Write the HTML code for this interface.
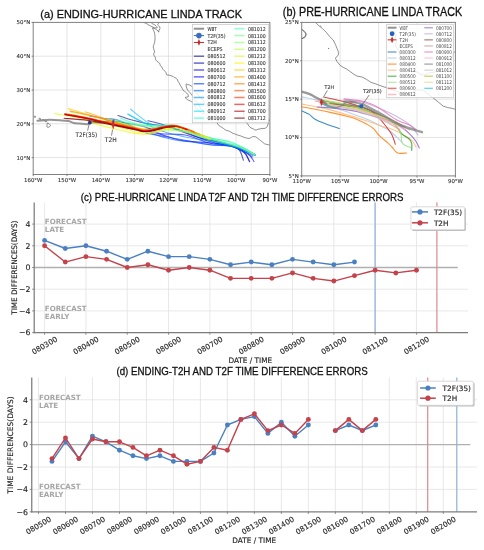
<!DOCTYPE html>
<html><head><meta charset="utf-8"><title>Hurricane Linda track and time difference errors</title>
<style>html,body{margin:0;padding:0;background:#fff;}body{width:484px;height:550px;overflow:hidden;}svg{display:block;}</style>
</head><body>
<svg width="484" height="550" viewBox="0 0 484 550"><defs><clipPath id="clipA"><rect x="33.2" y="22.4" width="236.70" height="152.10"/></clipPath><clipPath id="clipB"><rect x="301.7" y="22.4" width="153.70" height="153.50"/></clipPath></defs><line x1="44.6" y1="202.4" x2="44.6" y2="332.7" stroke="#e2e2e2" stroke-width="0.8" />
<line x1="85.92" y1="202.4" x2="85.92" y2="332.7" stroke="#e2e2e2" stroke-width="0.8" />
<line x1="127.24" y1="202.4" x2="127.24" y2="332.7" stroke="#e2e2e2" stroke-width="0.8" />
<line x1="168.56" y1="202.4" x2="168.56" y2="332.7" stroke="#e2e2e2" stroke-width="0.8" />
<line x1="209.88" y1="202.4" x2="209.88" y2="332.7" stroke="#e2e2e2" stroke-width="0.8" />
<line x1="251.2" y1="202.4" x2="251.2" y2="332.7" stroke="#e2e2e2" stroke-width="0.8" />
<line x1="292.52" y1="202.4" x2="292.52" y2="332.7" stroke="#e2e2e2" stroke-width="0.8" />
<line x1="333.84" y1="202.4" x2="333.84" y2="332.7" stroke="#e2e2e2" stroke-width="0.8" />
<line x1="375.16" y1="202.4" x2="375.16" y2="332.7" stroke="#e2e2e2" stroke-width="0.8" />
<line x1="416.48" y1="202.4" x2="416.48" y2="332.7" stroke="#e2e2e2" stroke-width="0.8" />
<line x1="34.2" y1="310.9" x2="468" y2="310.9" stroke="#e2e2e2" stroke-width="0.8" />
<line x1="34.2" y1="289.2" x2="468" y2="289.2" stroke="#e2e2e2" stroke-width="0.8" />
<line x1="34.2" y1="245.8" x2="468" y2="245.8" stroke="#e2e2e2" stroke-width="0.8" />
<line x1="34.2" y1="224.1" x2="468" y2="224.1" stroke="#e2e2e2" stroke-width="0.8" />
<line x1="34.2" y1="267.5" x2="457.8" y2="267.5" stroke="#b0b0b0" stroke-width="1.3" />
<line x1="375.1" y1="202.4" x2="375.1" y2="332.7" stroke="#8fb0d8" stroke-width="1.2" />
<line x1="436.9" y1="202.4" x2="436.9" y2="332.7" stroke="#d98a8e" stroke-width="1.2" />
<line x1="34.2" y1="202.4" x2="34.2" y2="333.3" stroke="#7c7c7c" stroke-width="1.25" />
<line x1="33.6" y1="332.7" x2="468" y2="332.7" stroke="#7c7c7c" stroke-width="1.25" />
<line x1="44.6" y1="332.7" x2="44.6" y2="334.7" stroke="#7c7c7c" stroke-width="0.9" />
<line x1="85.92" y1="332.7" x2="85.92" y2="334.7" stroke="#7c7c7c" stroke-width="0.9" />
<line x1="127.24" y1="332.7" x2="127.24" y2="334.7" stroke="#7c7c7c" stroke-width="0.9" />
<line x1="168.56" y1="332.7" x2="168.56" y2="334.7" stroke="#7c7c7c" stroke-width="0.9" />
<line x1="209.88" y1="332.7" x2="209.88" y2="334.7" stroke="#7c7c7c" stroke-width="0.9" />
<line x1="251.2" y1="332.7" x2="251.2" y2="334.7" stroke="#7c7c7c" stroke-width="0.9" />
<line x1="292.52" y1="332.7" x2="292.52" y2="334.7" stroke="#7c7c7c" stroke-width="0.9" />
<line x1="333.84" y1="332.7" x2="333.84" y2="334.7" stroke="#7c7c7c" stroke-width="0.9" />
<line x1="375.16" y1="332.7" x2="375.16" y2="334.7" stroke="#7c7c7c" stroke-width="0.9" />
<line x1="416.48" y1="332.7" x2="416.48" y2="334.7" stroke="#7c7c7c" stroke-width="0.9" />
<line x1="32.2" y1="332.6" x2="34.2" y2="332.6" stroke="#7c7c7c" stroke-width="0.9" />
<text x="30.4" y="335.35" font-family="'DejaVu Sans', 'Liberation Sans', sans-serif" font-size="7.8" fill="#262626" text-anchor="end" stroke="#262626" stroke-width="0.15">−6</text>
<line x1="32.2" y1="310.9" x2="34.2" y2="310.9" stroke="#7c7c7c" stroke-width="0.9" />
<text x="30.4" y="313.65" font-family="'DejaVu Sans', 'Liberation Sans', sans-serif" font-size="7.8" fill="#262626" text-anchor="end" stroke="#262626" stroke-width="0.15">−4</text>
<line x1="32.2" y1="289.2" x2="34.2" y2="289.2" stroke="#7c7c7c" stroke-width="0.9" />
<text x="30.4" y="291.95" font-family="'DejaVu Sans', 'Liberation Sans', sans-serif" font-size="7.8" fill="#262626" text-anchor="end" stroke="#262626" stroke-width="0.15">−2</text>
<line x1="32.2" y1="267.5" x2="34.2" y2="267.5" stroke="#7c7c7c" stroke-width="0.9" />
<text x="30.4" y="270.25" font-family="'DejaVu Sans', 'Liberation Sans', sans-serif" font-size="7.8" fill="#262626" text-anchor="end" stroke="#262626" stroke-width="0.15">0</text>
<line x1="32.2" y1="245.8" x2="34.2" y2="245.8" stroke="#7c7c7c" stroke-width="0.9" />
<text x="30.4" y="248.55" font-family="'DejaVu Sans', 'Liberation Sans', sans-serif" font-size="7.8" fill="#262626" text-anchor="end" stroke="#262626" stroke-width="0.15">2</text>
<line x1="32.2" y1="224.1" x2="34.2" y2="224.1" stroke="#7c7c7c" stroke-width="0.9" />
<text x="30.4" y="226.85" font-family="'DejaVu Sans', 'Liberation Sans', sans-serif" font-size="7.8" fill="#262626" text-anchor="end" stroke="#262626" stroke-width="0.15">4</text>
<text x="0" y="0" font-family="'DejaVu Sans', 'Liberation Sans', sans-serif" font-size="7.3" fill="#262626" stroke="#262626" stroke-width="0.12" text-anchor="middle" dominant-baseline="central" transform="translate(44.6,345.5) rotate(-30)">080300</text>
<text x="0" y="0" font-family="'DejaVu Sans', 'Liberation Sans', sans-serif" font-size="7.3" fill="#262626" stroke="#262626" stroke-width="0.12" text-anchor="middle" dominant-baseline="central" transform="translate(85.92,345.5) rotate(-30)">080400</text>
<text x="0" y="0" font-family="'DejaVu Sans', 'Liberation Sans', sans-serif" font-size="7.3" fill="#262626" stroke="#262626" stroke-width="0.12" text-anchor="middle" dominant-baseline="central" transform="translate(127.24,345.5) rotate(-30)">080500</text>
<text x="0" y="0" font-family="'DejaVu Sans', 'Liberation Sans', sans-serif" font-size="7.3" fill="#262626" stroke="#262626" stroke-width="0.12" text-anchor="middle" dominant-baseline="central" transform="translate(168.56,345.5) rotate(-30)">080600</text>
<text x="0" y="0" font-family="'DejaVu Sans', 'Liberation Sans', sans-serif" font-size="7.3" fill="#262626" stroke="#262626" stroke-width="0.12" text-anchor="middle" dominant-baseline="central" transform="translate(209.88,345.5) rotate(-30)">080700</text>
<text x="0" y="0" font-family="'DejaVu Sans', 'Liberation Sans', sans-serif" font-size="7.3" fill="#262626" stroke="#262626" stroke-width="0.12" text-anchor="middle" dominant-baseline="central" transform="translate(251.2,345.5) rotate(-30)">080800</text>
<text x="0" y="0" font-family="'DejaVu Sans', 'Liberation Sans', sans-serif" font-size="7.3" fill="#262626" stroke="#262626" stroke-width="0.12" text-anchor="middle" dominant-baseline="central" transform="translate(292.52,345.5) rotate(-30)">080900</text>
<text x="0" y="0" font-family="'DejaVu Sans', 'Liberation Sans', sans-serif" font-size="7.3" fill="#262626" stroke="#262626" stroke-width="0.12" text-anchor="middle" dominant-baseline="central" transform="translate(333.84,345.5) rotate(-30)">081000</text>
<text x="0" y="0" font-family="'DejaVu Sans', 'Liberation Sans', sans-serif" font-size="7.3" fill="#262626" stroke="#262626" stroke-width="0.12" text-anchor="middle" dominant-baseline="central" transform="translate(375.16,345.5) rotate(-30)">081100</text>
<text x="0" y="0" font-family="'DejaVu Sans', 'Liberation Sans', sans-serif" font-size="7.3" fill="#262626" stroke="#262626" stroke-width="0.12" text-anchor="middle" dominant-baseline="central" transform="translate(416.48,345.5) rotate(-30)">081200</text>
<text x="0" y="0" font-family="'DejaVu Sans', 'Liberation Sans', sans-serif" font-size="7.6" fill="#262626" text-anchor="middle" dominant-baseline="central" textLength="94.2" lengthAdjust="spacingAndGlyphs" stroke="#262626" stroke-width="0.15" transform="translate(14.2,267.7) rotate(-90)">TIME DIFFERENCES(DAYS)</text>
<text x="250.3" y="363" font-family="'DejaVu Sans', 'Liberation Sans', sans-serif" font-size="7.4" fill="#262626" text-anchor="middle" textLength="43.8" lengthAdjust="spacingAndGlyphs" stroke="#262626" stroke-width="0.15">DATE / TIME</text>
<text x="44.8" y="223.9" font-family="'DejaVu Sans', 'Liberation Sans', sans-serif" font-size="7.2" fill="#a6a6a6" text-anchor="start" font-weight="bold" textLength="41.8" lengthAdjust="spacingAndGlyphs">FORECAST</text>
<text x="44.8" y="231.9" font-family="'DejaVu Sans', 'Liberation Sans', sans-serif" font-size="7.2" fill="#a6a6a6" text-anchor="start" font-weight="bold" textLength="19.4" lengthAdjust="spacingAndGlyphs">LATE</text>
<text x="44.8" y="310.5" font-family="'DejaVu Sans', 'Liberation Sans', sans-serif" font-size="7.2" fill="#a6a6a6" text-anchor="start" font-weight="bold" textLength="41.8" lengthAdjust="spacingAndGlyphs">FORECAST</text>
<text x="44.8" y="318.7" font-family="'DejaVu Sans', 'Liberation Sans', sans-serif" font-size="7.2" fill="#a6a6a6" text-anchor="start" font-weight="bold" textLength="24.5" lengthAdjust="spacingAndGlyphs">EARLY</text>
<polyline points="44.6,240.38 65.26,248.51 85.92,245.8 106.58,251.22 127.24,259.36 147.9,251.22 168.56,256.65 189.22,256.65 209.88,259.36 230.54,264.79 251.2,262.07 271.86,264.79 292.52,259.36 313.18,262.07 333.84,264.79 354.5,262.07" fill="none" stroke="#4a80c2" stroke-width="1.4" stroke-linejoin="round" stroke-linecap="round" />
<circle cx="44.6" cy="240.38" r="2.45" fill="#4a80c2" />
<circle cx="65.26" cy="248.51" r="2.45" fill="#4a80c2" />
<circle cx="85.92" cy="245.8" r="2.45" fill="#4a80c2" />
<circle cx="106.58" cy="251.22" r="2.45" fill="#4a80c2" />
<circle cx="127.24" cy="259.36" r="2.45" fill="#4a80c2" />
<circle cx="147.9" cy="251.22" r="2.45" fill="#4a80c2" />
<circle cx="168.56" cy="256.65" r="2.45" fill="#4a80c2" />
<circle cx="189.22" cy="256.65" r="2.45" fill="#4a80c2" />
<circle cx="209.88" cy="259.36" r="2.45" fill="#4a80c2" />
<circle cx="230.54" cy="264.79" r="2.45" fill="#4a80c2" />
<circle cx="251.2" cy="262.07" r="2.45" fill="#4a80c2" />
<circle cx="271.86" cy="264.79" r="2.45" fill="#4a80c2" />
<circle cx="292.52" cy="259.36" r="2.45" fill="#4a80c2" />
<circle cx="313.18" cy="262.07" r="2.45" fill="#4a80c2" />
<circle cx="333.84" cy="264.79" r="2.45" fill="#4a80c2" />
<circle cx="354.5" cy="262.07" r="2.45" fill="#4a80c2" />
<polyline points="44.6,245.8 65.26,262.07 85.92,256.65 106.58,259.36 127.24,267.5 147.9,264.79 168.56,270.21 189.22,267.5 209.88,270.21 230.54,278.35 251.2,278.35 271.86,278.35 292.52,272.93 313.18,278.35 333.84,281.06 354.5,275.64 375.16,270.21 395.82,272.93 416.48,270.21" fill="none" stroke="#c4424a" stroke-width="1.4" stroke-linejoin="round" stroke-linecap="round" />
<circle cx="44.6" cy="245.8" r="2.45" fill="#c4424a" />
<circle cx="65.26" cy="262.07" r="2.45" fill="#c4424a" />
<circle cx="85.92" cy="256.65" r="2.45" fill="#c4424a" />
<circle cx="106.58" cy="259.36" r="2.45" fill="#c4424a" />
<circle cx="127.24" cy="267.5" r="2.45" fill="#c4424a" />
<circle cx="147.9" cy="264.79" r="2.45" fill="#c4424a" />
<circle cx="168.56" cy="270.21" r="2.45" fill="#c4424a" />
<circle cx="189.22" cy="267.5" r="2.45" fill="#c4424a" />
<circle cx="209.88" cy="270.21" r="2.45" fill="#c4424a" />
<circle cx="230.54" cy="278.35" r="2.45" fill="#c4424a" />
<circle cx="251.2" cy="278.35" r="2.45" fill="#c4424a" />
<circle cx="271.86" cy="278.35" r="2.45" fill="#c4424a" />
<circle cx="292.52" cy="272.93" r="2.45" fill="#c4424a" />
<circle cx="313.18" cy="278.35" r="2.45" fill="#c4424a" />
<circle cx="333.84" cy="281.06" r="2.45" fill="#c4424a" />
<circle cx="354.5" cy="275.64" r="2.45" fill="#c4424a" />
<circle cx="375.16" cy="270.21" r="2.45" fill="#c4424a" />
<circle cx="395.82" cy="272.93" r="2.45" fill="#c4424a" />
<circle cx="416.48" cy="270.21" r="2.45" fill="#c4424a" />
<rect x="412.2" y="208.1" width="53.7" height="23" fill="#bdbdbd" stroke="none" stroke-width="1" rx="1.5"/>
<rect x="410.9" y="206.8" width="53.7" height="23" fill="#ffffff" stroke="#d0d0d0" stroke-width="0.8" rx="1.5"/>
<line x1="411.9" y1="211.9" x2="428" y2="211.9" stroke="#4a80c2" stroke-width="1.5" />
<circle cx="419.95" cy="211.9" r="2.6" fill="#4a80c2" />
<text x="433.9" y="214.6" font-family="'DejaVu Sans', 'Liberation Sans', sans-serif" font-size="7.3" fill="#262626" text-anchor="start" stroke="#262626" stroke-width="0.15">T2F(35)</text>
<line x1="411.9" y1="222.8" x2="428" y2="222.8" stroke="#c4424a" stroke-width="1.5" />
<circle cx="419.95" cy="222.8" r="2.6" fill="#c4424a" />
<text x="433.9" y="225.5" font-family="'DejaVu Sans', 'Liberation Sans', sans-serif" font-size="7.3" fill="#262626" text-anchor="start" stroke="#262626" stroke-width="0.15">T2H</text>
<text x="80.8" y="200.8" font-family="'Liberation Sans', 'DejaVu Sans', sans-serif" font-size="11.6" fill="#111" text-anchor="start" textLength="322.6" lengthAdjust="spacingAndGlyphs" stroke="#111" stroke-width="0.3">(c) PRE-HURRICANE LINDA T2F AND T2H TIME DIFFERENCE ERRORS</text>
<line x1="38.5" y1="377.4" x2="38.5" y2="511.9" stroke="#e2e2e2" stroke-width="0.8" />
<line x1="65.49" y1="377.4" x2="65.49" y2="511.9" stroke="#e2e2e2" stroke-width="0.8" />
<line x1="92.47" y1="377.4" x2="92.47" y2="511.9" stroke="#e2e2e2" stroke-width="0.8" />
<line x1="119.46" y1="377.4" x2="119.46" y2="511.9" stroke="#e2e2e2" stroke-width="0.8" />
<line x1="146.44" y1="377.4" x2="146.44" y2="511.9" stroke="#e2e2e2" stroke-width="0.8" />
<line x1="173.43" y1="377.4" x2="173.43" y2="511.9" stroke="#e2e2e2" stroke-width="0.8" />
<line x1="200.42" y1="377.4" x2="200.42" y2="511.9" stroke="#e2e2e2" stroke-width="0.8" />
<line x1="227.4" y1="377.4" x2="227.4" y2="511.9" stroke="#e2e2e2" stroke-width="0.8" />
<line x1="254.39" y1="377.4" x2="254.39" y2="511.9" stroke="#e2e2e2" stroke-width="0.8" />
<line x1="281.37" y1="377.4" x2="281.37" y2="511.9" stroke="#e2e2e2" stroke-width="0.8" />
<line x1="308.36" y1="377.4" x2="308.36" y2="511.9" stroke="#e2e2e2" stroke-width="0.8" />
<line x1="335.35" y1="377.4" x2="335.35" y2="511.9" stroke="#e2e2e2" stroke-width="0.8" />
<line x1="362.33" y1="377.4" x2="362.33" y2="511.9" stroke="#e2e2e2" stroke-width="0.8" />
<line x1="389.32" y1="377.4" x2="389.32" y2="511.9" stroke="#e2e2e2" stroke-width="0.8" />
<line x1="416.3" y1="377.4" x2="416.3" y2="511.9" stroke="#e2e2e2" stroke-width="0.8" />
<line x1="443.29" y1="377.4" x2="443.29" y2="511.9" stroke="#e2e2e2" stroke-width="0.8" />
<line x1="31.75" y1="489.4" x2="477" y2="489.4" stroke="#e2e2e2" stroke-width="0.8" />
<line x1="31.75" y1="467" x2="477" y2="467" stroke="#e2e2e2" stroke-width="0.8" />
<line x1="31.75" y1="422.2" x2="477" y2="422.2" stroke="#e2e2e2" stroke-width="0.8" />
<line x1="31.75" y1="399.8" x2="477" y2="399.8" stroke="#e2e2e2" stroke-width="0.8" />
<line x1="31.75" y1="444.6" x2="470.28" y2="444.6" stroke="#b0b0b0" stroke-width="1.3" />
<line x1="456.8" y1="377.4" x2="456.8" y2="511.9" stroke="#8fb0d8" stroke-width="1.2" />
<line x1="427.7" y1="377.4" x2="427.7" y2="511.9" stroke="#d98a8e" stroke-width="1.2" />
<line x1="31.75" y1="377.4" x2="31.75" y2="512.5" stroke="#7c7c7c" stroke-width="1.25" />
<line x1="31.15" y1="511.9" x2="477" y2="511.9" stroke="#7c7c7c" stroke-width="1.25" />
<line x1="38.5" y1="511.9" x2="38.5" y2="513.9" stroke="#7c7c7c" stroke-width="0.9" />
<line x1="65.49" y1="511.9" x2="65.49" y2="513.9" stroke="#7c7c7c" stroke-width="0.9" />
<line x1="92.47" y1="511.9" x2="92.47" y2="513.9" stroke="#7c7c7c" stroke-width="0.9" />
<line x1="119.46" y1="511.9" x2="119.46" y2="513.9" stroke="#7c7c7c" stroke-width="0.9" />
<line x1="146.44" y1="511.9" x2="146.44" y2="513.9" stroke="#7c7c7c" stroke-width="0.9" />
<line x1="173.43" y1="511.9" x2="173.43" y2="513.9" stroke="#7c7c7c" stroke-width="0.9" />
<line x1="200.42" y1="511.9" x2="200.42" y2="513.9" stroke="#7c7c7c" stroke-width="0.9" />
<line x1="227.4" y1="511.9" x2="227.4" y2="513.9" stroke="#7c7c7c" stroke-width="0.9" />
<line x1="254.39" y1="511.9" x2="254.39" y2="513.9" stroke="#7c7c7c" stroke-width="0.9" />
<line x1="281.37" y1="511.9" x2="281.37" y2="513.9" stroke="#7c7c7c" stroke-width="0.9" />
<line x1="308.36" y1="511.9" x2="308.36" y2="513.9" stroke="#7c7c7c" stroke-width="0.9" />
<line x1="335.35" y1="511.9" x2="335.35" y2="513.9" stroke="#7c7c7c" stroke-width="0.9" />
<line x1="362.33" y1="511.9" x2="362.33" y2="513.9" stroke="#7c7c7c" stroke-width="0.9" />
<line x1="389.32" y1="511.9" x2="389.32" y2="513.9" stroke="#7c7c7c" stroke-width="0.9" />
<line x1="416.3" y1="511.9" x2="416.3" y2="513.9" stroke="#7c7c7c" stroke-width="0.9" />
<line x1="443.29" y1="511.9" x2="443.29" y2="513.9" stroke="#7c7c7c" stroke-width="0.9" />
<line x1="29.75" y1="511.8" x2="31.75" y2="511.8" stroke="#7c7c7c" stroke-width="0.9" />
<text x="27.9" y="514.55" font-family="'DejaVu Sans', 'Liberation Sans', sans-serif" font-size="7.8" fill="#262626" text-anchor="end" stroke="#262626" stroke-width="0.15">−6</text>
<line x1="29.75" y1="489.4" x2="31.75" y2="489.4" stroke="#7c7c7c" stroke-width="0.9" />
<text x="27.9" y="492.15" font-family="'DejaVu Sans', 'Liberation Sans', sans-serif" font-size="7.8" fill="#262626" text-anchor="end" stroke="#262626" stroke-width="0.15">−4</text>
<line x1="29.75" y1="467" x2="31.75" y2="467" stroke="#7c7c7c" stroke-width="0.9" />
<text x="27.9" y="469.75" font-family="'DejaVu Sans', 'Liberation Sans', sans-serif" font-size="7.8" fill="#262626" text-anchor="end" stroke="#262626" stroke-width="0.15">−2</text>
<line x1="29.75" y1="444.6" x2="31.75" y2="444.6" stroke="#7c7c7c" stroke-width="0.9" />
<text x="27.9" y="447.35" font-family="'DejaVu Sans', 'Liberation Sans', sans-serif" font-size="7.8" fill="#262626" text-anchor="end" stroke="#262626" stroke-width="0.15">0</text>
<line x1="29.75" y1="422.2" x2="31.75" y2="422.2" stroke="#7c7c7c" stroke-width="0.9" />
<text x="27.9" y="424.95" font-family="'DejaVu Sans', 'Liberation Sans', sans-serif" font-size="7.8" fill="#262626" text-anchor="end" stroke="#262626" stroke-width="0.15">2</text>
<line x1="29.75" y1="399.8" x2="31.75" y2="399.8" stroke="#7c7c7c" stroke-width="0.9" />
<text x="27.9" y="402.55" font-family="'DejaVu Sans', 'Liberation Sans', sans-serif" font-size="7.8" fill="#262626" text-anchor="end" stroke="#262626" stroke-width="0.15">4</text>
<text x="0" y="0" font-family="'DejaVu Sans', 'Liberation Sans', sans-serif" font-size="7.3" fill="#262626" stroke="#262626" stroke-width="0.12" text-anchor="middle" dominant-baseline="central" transform="translate(38.5,525.5) rotate(-30)">080500</text>
<text x="0" y="0" font-family="'DejaVu Sans', 'Liberation Sans', sans-serif" font-size="7.3" fill="#262626" stroke="#262626" stroke-width="0.12" text-anchor="middle" dominant-baseline="central" transform="translate(65.49,525.5) rotate(-30)">080600</text>
<text x="0" y="0" font-family="'DejaVu Sans', 'Liberation Sans', sans-serif" font-size="7.3" fill="#262626" stroke="#262626" stroke-width="0.12" text-anchor="middle" dominant-baseline="central" transform="translate(92.47,525.5) rotate(-30)">080700</text>
<text x="0" y="0" font-family="'DejaVu Sans', 'Liberation Sans', sans-serif" font-size="7.3" fill="#262626" stroke="#262626" stroke-width="0.12" text-anchor="middle" dominant-baseline="central" transform="translate(119.46,525.5) rotate(-30)">080800</text>
<text x="0" y="0" font-family="'DejaVu Sans', 'Liberation Sans', sans-serif" font-size="7.3" fill="#262626" stroke="#262626" stroke-width="0.12" text-anchor="middle" dominant-baseline="central" transform="translate(146.44,525.5) rotate(-30)">080900</text>
<text x="0" y="0" font-family="'DejaVu Sans', 'Liberation Sans', sans-serif" font-size="7.3" fill="#262626" stroke="#262626" stroke-width="0.12" text-anchor="middle" dominant-baseline="central" transform="translate(173.43,525.5) rotate(-30)">081000</text>
<text x="0" y="0" font-family="'DejaVu Sans', 'Liberation Sans', sans-serif" font-size="7.3" fill="#262626" stroke="#262626" stroke-width="0.12" text-anchor="middle" dominant-baseline="central" transform="translate(200.42,525.5) rotate(-30)">081100</text>
<text x="0" y="0" font-family="'DejaVu Sans', 'Liberation Sans', sans-serif" font-size="7.3" fill="#262626" stroke="#262626" stroke-width="0.12" text-anchor="middle" dominant-baseline="central" transform="translate(227.4,525.5) rotate(-30)">081200</text>
<text x="0" y="0" font-family="'DejaVu Sans', 'Liberation Sans', sans-serif" font-size="7.3" fill="#262626" stroke="#262626" stroke-width="0.12" text-anchor="middle" dominant-baseline="central" transform="translate(254.39,525.5) rotate(-30)">081300</text>
<text x="0" y="0" font-family="'DejaVu Sans', 'Liberation Sans', sans-serif" font-size="7.3" fill="#262626" stroke="#262626" stroke-width="0.12" text-anchor="middle" dominant-baseline="central" transform="translate(281.37,525.5) rotate(-30)">081400</text>
<text x="0" y="0" font-family="'DejaVu Sans', 'Liberation Sans', sans-serif" font-size="7.3" fill="#262626" stroke="#262626" stroke-width="0.12" text-anchor="middle" dominant-baseline="central" transform="translate(308.36,525.5) rotate(-30)">081500</text>
<text x="0" y="0" font-family="'DejaVu Sans', 'Liberation Sans', sans-serif" font-size="7.3" fill="#262626" stroke="#262626" stroke-width="0.12" text-anchor="middle" dominant-baseline="central" transform="translate(335.35,525.5) rotate(-30)">081600</text>
<text x="0" y="0" font-family="'DejaVu Sans', 'Liberation Sans', sans-serif" font-size="7.3" fill="#262626" stroke="#262626" stroke-width="0.12" text-anchor="middle" dominant-baseline="central" transform="translate(362.33,525.5) rotate(-30)">081700</text>
<text x="0" y="0" font-family="'DejaVu Sans', 'Liberation Sans', sans-serif" font-size="7.3" fill="#262626" stroke="#262626" stroke-width="0.12" text-anchor="middle" dominant-baseline="central" transform="translate(389.32,525.5) rotate(-30)">081800</text>
<text x="0" y="0" font-family="'DejaVu Sans', 'Liberation Sans', sans-serif" font-size="7.3" fill="#262626" stroke="#262626" stroke-width="0.12" text-anchor="middle" dominant-baseline="central" transform="translate(416.3,525.5) rotate(-30)">081900</text>
<text x="0" y="0" font-family="'DejaVu Sans', 'Liberation Sans', sans-serif" font-size="7.3" fill="#262626" stroke="#262626" stroke-width="0.12" text-anchor="middle" dominant-baseline="central" transform="translate(443.29,525.5) rotate(-30)">082000</text>
<text x="0" y="0" font-family="'DejaVu Sans', 'Liberation Sans', sans-serif" font-size="7.6" fill="#262626" text-anchor="middle" dominant-baseline="central" textLength="97.3" lengthAdjust="spacingAndGlyphs" stroke="#262626" stroke-width="0.15" transform="translate(10.5,445) rotate(-90)">TIME DIFFERENCES(DAYS)</text>
<text x="254.2" y="543.1" font-family="'DejaVu Sans', 'Liberation Sans', sans-serif" font-size="7.4" fill="#262626" text-anchor="middle" textLength="43.8" lengthAdjust="spacingAndGlyphs" stroke="#262626" stroke-width="0.15">DATE / TIME</text>
<text x="38.9" y="399.6" font-family="'DejaVu Sans', 'Liberation Sans', sans-serif" font-size="7.2" fill="#a6a6a6" text-anchor="start" font-weight="bold" textLength="41.8" lengthAdjust="spacingAndGlyphs">FORECAST</text>
<text x="38.9" y="407.6" font-family="'DejaVu Sans', 'Liberation Sans', sans-serif" font-size="7.2" fill="#a6a6a6" text-anchor="start" font-weight="bold" textLength="19.4" lengthAdjust="spacingAndGlyphs">LATE</text>
<text x="38.9" y="488.9" font-family="'DejaVu Sans', 'Liberation Sans', sans-serif" font-size="7.2" fill="#a6a6a6" text-anchor="start" font-weight="bold" textLength="41.8" lengthAdjust="spacingAndGlyphs">FORECAST</text>
<text x="38.9" y="497.1" font-family="'DejaVu Sans', 'Liberation Sans', sans-serif" font-size="7.2" fill="#a6a6a6" text-anchor="start" font-weight="bold" textLength="24.5" lengthAdjust="spacingAndGlyphs">EARLY</text>
<polyline points="51.99,461.4 65.49,441.8 78.98,458.6 92.47,436.2 105.97,441.8 119.46,450.2 132.95,455.8 146.44,458.6 159.94,455.8 173.43,461.4 186.92,461.4 200.42,461.4 213.91,453 227.4,425 240.9,419.4 254.39,416.6 267.88,433.4 281.37,422.2 294.87,436.2 308.36,425" fill="none" stroke="#4a80c2" stroke-width="1.4" stroke-linejoin="round" stroke-linecap="round" />
<polyline points="335.35,430.6 348.84,425 362.33,430.6 375.82,425" fill="none" stroke="#4a80c2" stroke-width="1.4" stroke-linejoin="round" stroke-linecap="round" />
<circle cx="51.99" cy="461.4" r="2.45" fill="#4a80c2" />
<circle cx="65.49" cy="441.8" r="2.45" fill="#4a80c2" />
<circle cx="78.98" cy="458.6" r="2.45" fill="#4a80c2" />
<circle cx="92.47" cy="436.2" r="2.45" fill="#4a80c2" />
<circle cx="105.97" cy="441.8" r="2.45" fill="#4a80c2" />
<circle cx="119.46" cy="450.2" r="2.45" fill="#4a80c2" />
<circle cx="132.95" cy="455.8" r="2.45" fill="#4a80c2" />
<circle cx="146.44" cy="458.6" r="2.45" fill="#4a80c2" />
<circle cx="159.94" cy="455.8" r="2.45" fill="#4a80c2" />
<circle cx="173.43" cy="461.4" r="2.45" fill="#4a80c2" />
<circle cx="186.92" cy="461.4" r="2.45" fill="#4a80c2" />
<circle cx="200.42" cy="461.4" r="2.45" fill="#4a80c2" />
<circle cx="213.91" cy="453" r="2.45" fill="#4a80c2" />
<circle cx="227.4" cy="425" r="2.45" fill="#4a80c2" />
<circle cx="240.9" cy="419.4" r="2.45" fill="#4a80c2" />
<circle cx="254.39" cy="416.6" r="2.45" fill="#4a80c2" />
<circle cx="267.88" cy="433.4" r="2.45" fill="#4a80c2" />
<circle cx="281.37" cy="422.2" r="2.45" fill="#4a80c2" />
<circle cx="294.87" cy="436.2" r="2.45" fill="#4a80c2" />
<circle cx="308.36" cy="425" r="2.45" fill="#4a80c2" />
<circle cx="335.35" cy="430.6" r="2.45" fill="#4a80c2" />
<circle cx="348.84" cy="425" r="2.45" fill="#4a80c2" />
<circle cx="362.33" cy="430.6" r="2.45" fill="#4a80c2" />
<circle cx="375.82" cy="425" r="2.45" fill="#4a80c2" />
<polyline points="51.99,458.6 65.49,437.88 78.98,458.6 92.47,439 105.97,441.8 119.46,441.8 132.95,447.4 146.44,455.8 159.94,450.2 173.43,455.8 186.92,464.2 200.42,461.4 213.91,447.4 227.4,450.2 240.9,419.4 254.39,413.8 267.88,430.6 281.37,425 294.87,433.4 308.36,419.4" fill="none" stroke="#c4424a" stroke-width="1.4" stroke-linejoin="round" stroke-linecap="round" />
<polyline points="335.35,430.6 348.84,419.4 362.33,430.6 375.82,419.4" fill="none" stroke="#c4424a" stroke-width="1.4" stroke-linejoin="round" stroke-linecap="round" />
<circle cx="51.99" cy="458.6" r="2.45" fill="#c4424a" />
<circle cx="65.49" cy="437.88" r="2.45" fill="#c4424a" />
<circle cx="78.98" cy="458.6" r="2.45" fill="#c4424a" />
<circle cx="92.47" cy="439" r="2.45" fill="#c4424a" />
<circle cx="105.97" cy="441.8" r="2.45" fill="#c4424a" />
<circle cx="119.46" cy="441.8" r="2.45" fill="#c4424a" />
<circle cx="132.95" cy="447.4" r="2.45" fill="#c4424a" />
<circle cx="146.44" cy="455.8" r="2.45" fill="#c4424a" />
<circle cx="159.94" cy="450.2" r="2.45" fill="#c4424a" />
<circle cx="173.43" cy="455.8" r="2.45" fill="#c4424a" />
<circle cx="186.92" cy="464.2" r="2.45" fill="#c4424a" />
<circle cx="200.42" cy="461.4" r="2.45" fill="#c4424a" />
<circle cx="213.91" cy="447.4" r="2.45" fill="#c4424a" />
<circle cx="227.4" cy="450.2" r="2.45" fill="#c4424a" />
<circle cx="240.9" cy="419.4" r="2.45" fill="#c4424a" />
<circle cx="254.39" cy="413.8" r="2.45" fill="#c4424a" />
<circle cx="267.88" cy="430.6" r="2.45" fill="#c4424a" />
<circle cx="281.37" cy="425" r="2.45" fill="#c4424a" />
<circle cx="294.87" cy="433.4" r="2.45" fill="#c4424a" />
<circle cx="308.36" cy="419.4" r="2.45" fill="#c4424a" />
<circle cx="335.35" cy="430.6" r="2.45" fill="#c4424a" />
<circle cx="348.84" cy="419.4" r="2.45" fill="#c4424a" />
<circle cx="362.33" cy="430.6" r="2.45" fill="#c4424a" />
<circle cx="375.82" cy="419.4" r="2.45" fill="#c4424a" />
<rect x="418.9" y="382.5" width="55.7" height="24.1" fill="#bdbdbd" stroke="none" stroke-width="1" rx="1.5"/>
<rect x="417.6" y="381.2" width="55.7" height="24.1" fill="#ffffff" stroke="#d0d0d0" stroke-width="0.8" rx="1.5"/>
<line x1="420.1" y1="388" x2="435.8" y2="388" stroke="#4a80c2" stroke-width="1.5" />
<circle cx="427.95" cy="388" r="2.6" fill="#4a80c2" />
<text x="442.6" y="390.7" font-family="'DejaVu Sans', 'Liberation Sans', sans-serif" font-size="7.3" fill="#262626" text-anchor="start" stroke="#262626" stroke-width="0.15">T2F(35)</text>
<line x1="420.1" y1="398.2" x2="435.8" y2="398.2" stroke="#c4424a" stroke-width="1.5" />
<circle cx="427.95" cy="398.2" r="2.6" fill="#c4424a" />
<text x="442.6" y="400.9" font-family="'DejaVu Sans', 'Liberation Sans', sans-serif" font-size="7.3" fill="#262626" text-anchor="start" stroke="#262626" stroke-width="0.15">T2H</text>
<text x="116.4" y="374.9" font-family="'Liberation Sans', 'DejaVu Sans', sans-serif" font-size="11.2" fill="#111" text-anchor="start" textLength="251.3" lengthAdjust="spacingAndGlyphs" stroke="#111" stroke-width="0.3">(d) ENDING-T2H AND T2F TIME DIFFERENCE ERRORS</text>
<g stroke="#dadada" stroke-width="0.7"><line x1="67.01" y1="22.4" x2="67.01" y2="174.5"/><line x1="100.83" y1="22.4" x2="100.83" y2="174.5"/><line x1="134.64" y1="22.4" x2="134.64" y2="174.5"/><line x1="168.46" y1="22.4" x2="168.46" y2="174.5"/><line x1="202.27" y1="22.4" x2="202.27" y2="174.5"/><line x1="236.08" y1="22.4" x2="236.08" y2="174.5"/><line x1="33.2" y1="56.2" x2="269.9" y2="56.2"/><line x1="33.2" y1="90" x2="269.9" y2="90"/><line x1="33.2" y1="123.8" x2="269.9" y2="123.8"/><line x1="33.2" y1="157.6" x2="269.9" y2="157.6"/></g>
<g clip-path="url(#clipA)" fill="none" stroke="#474747" stroke-width="0.6" stroke-linejoin="round"><path d="M141.74,21.05 L143.77,22.4 L146.82,23.75 L149.52,25.44 L152.23,26.79 L154.25,27.64 L156.28,27.98 L157.3,27.64 L156.96,26.79 L155.94,25.78 L154.59,24.77 L152.56,23.75 L151.21,22.74 L150.53,21.39"/><path d="M159.66,21.05 L158.65,23.08 L157.64,24.77 L158.65,25.78 L159.66,26.79 L160,28.48 L158.99,30.51 L158.65,32.2 L157.97,30.85 L155.27,28.82 L152.56,27.81 L152.9,29.16 L154.25,31.86 L154.76,34.23 L155.1,37.27 L154.93,39.98 L154.59,42.68 L153.58,45.38 L153.24,46.74 L153.92,49.44 L154.59,51.81 L153.92,53.5 L153.58,54.85 L155.27,57.21 L155.61,59.58 L156.96,61.27 L158.31,62.28 L159.66,63.3 L160,64.31 L160.34,65.66 L161.69,66.68 L162.03,67.69 L163.05,69.38 L165.07,71.41 L166.09,72.76 L166.43,74.45 L166.77,74.96 L169.13,75.13 L171.16,75.8 L173.19,76.48 L173.87,77.16 L175.22,77.66 L176.57,78.68 L177.59,79.86 L177.92,81.21 L178.6,82.23 L179.61,83.92 L180.29,85.27 L181.31,86.96 L182.32,88.65 L183,90.34 L184.69,91.35 L186.72,93.04 L188.07,94.73 L188.41,96.76 L186.72,97.1 L185.02,97.44 L186.04,98.45 L187.73,99.8 L190.1,100.82 L191.79,101.83 L193.14,103.18 L194.49,105.21 L195.17,107.24 L196.18,108.59 L197.87,109.6 L199.56,111.29 L201.26,112.65 L202.27,114 L203.62,113.66 L204.13,112.65 L203.96,111.29 L202.95,110.28 L201.59,109.6 L200.58,108.25 L199.9,106.9 L198.89,104.87 L197.87,103.52 L196.86,101.83 L195.85,100.48 L194.49,98.79 L193.14,97.1 L192.13,95.41 L191.11,94.06 L189.76,92.37 L188.07,90.68 L187.05,88.99 L186.38,86.96 L186.04,84.93 L186.38,83.92 L187.73,84.59 L189.42,84.93 L191.45,85.94 L192.46,87.3 L193.14,88.99 L194.49,91.01 L196.18,92.7 L197.87,94.73 L199.23,96.76 L200.58,97.44 L202.27,99.46 L203.96,101.49 L204.64,103.52 L205.99,105.21 L208.02,106.56 L209.71,108.25 L211.4,109.6 L213.09,111.29 L214.44,112.98 L216.13,114.67 L217.15,116.7 L217.82,118.39 L218.5,120.08 L218.33,121.43 L217.49,122.11 L217.15,122.79 L217.82,124.14 L219.18,125.83 L220.53,126.67 L221.88,127.35 L223.57,128.53 L224.93,129.55 L226.62,130.56 L228.64,130.9 L230.67,131.91 L232.7,133.26 L234.73,133.94 L236.42,134.62 L238.45,135.29 L240.82,135.97 L242.85,136.81 L245.21,137.66 L247.58,138.33 L249.61,138.33 L251.3,137.49 L252.65,136.64 L254.01,136.64 L255.7,136.81 L257.39,138 L259.08,139.35 L260.77,140.7 L262.46,142.05 L264.49,143.74 L266.52,144.42 L268.55,144.76 L270.57,145.43 L272.6,146.11 L274.97,146.78 L277.34,146.78"/><path d="M243.18,110.28 L243.86,115.35 L243.52,117.04 L244.88,119.41 L245.55,121.43 L246.9,123.12 L248.26,124.81 L249.27,126.5 L250.96,127.86 L252.99,128.7 L254.68,129.88 L256.37,130.05 L258.06,129.21 L260.09,128.87 L262.12,128.36 L264.15,128.53 L265.84,128.03 L267.19,126.5 L267.87,124.81 L268.38,122.45 L268.88,120.42 L269.9,119.74 L271.59,119.41"/><path d="M47.23,122.95 L47.06,124.64 L46.89,126.84 L47.91,127.45 L49.09,127.01 L50.61,125.66 L49.94,124.64 L49.09,123.63 L47.23,122.95"/><path d="M44.36,120.42 L45.37,121.77 L46.73,121.6 L46.39,120.76 L45.2,120.93 L44.36,120.42"/><path d="M38.95,118.56 L39.62,119.41 L40.98,119.41 L40.47,118.56 L39.96,118.05 L38.95,118.56"/><path d="M33.88,116.7 L34.55,117.38 L35.4,117.21 L35.57,116.36 L34.72,116.19 L33.88,116.7"/><path d="M42.33,119.74 L44.36,120.08 L43.34,119.74 L42.33,119.74"/></g>
<g stroke="#dadada" stroke-width="0.7"><line x1="340.12" y1="22.4" x2="340.12" y2="175.9"/><line x1="378.55" y1="22.4" x2="378.55" y2="175.9"/><line x1="416.97" y1="22.4" x2="416.97" y2="175.9"/><line x1="301.7" y1="60.77" x2="455.4" y2="60.77"/><line x1="301.7" y1="99.15" x2="455.4" y2="99.15"/><line x1="301.7" y1="137.53" x2="455.4" y2="137.53"/></g>
<g clip-path="url(#clipB)" fill="none" stroke="#474747" stroke-width="0.6" stroke-linejoin="round"><path d="M204.87,-172.54 L202.56,-167.94 L200.26,-164.1 L202.56,-161.8 L204.87,-159.5 L205.64,-155.66 L203.33,-151.06 L202.56,-147.22 L201.03,-150.29 L194.88,-154.89 L188.73,-157.19 L189.5,-154.12 L192.57,-147.99 L193.73,-142.61 L194.49,-135.71 L194.11,-129.56 L193.34,-123.42 L191.04,-117.29 L190.27,-114.21 L191.8,-108.07 L193.34,-102.7 L191.8,-98.86 L191.04,-95.79 L194.88,-90.42 L195.65,-85.05 L198.72,-81.21 L201.79,-78.91 L204.87,-76.61 L205.64,-74.31 L206.41,-71.24 L209.48,-68.93 L210.25,-66.63 L212.55,-62.79 L217.16,-58.19 L219.47,-55.12 L220.24,-51.28 L221.01,-50.13 L226.39,-49.74 L231,-48.21 L235.61,-46.68 L237.15,-45.14 L240.22,-43.99 L243.29,-41.69 L245.6,-39 L246.37,-35.93 L247.91,-33.63 L250.21,-29.79 L251.75,-26.72 L254.05,-22.88 L256.36,-19.04 L257.9,-15.21 L261.74,-12.91 L266.35,-9.07 L269.42,-5.23 L270.19,-0.62 L266.35,0.14 L262.51,0.91 L264.81,3.21 L268.65,6.28 L274.03,8.58 L277.88,10.89 L280.95,13.96 L284.02,18.56 L285.56,23.17 L287.87,26.24 L291.71,28.54 L295.55,32.38 L299.39,35.45 L301.7,38.52 L304.77,37.75 L305.93,35.45 L305.54,32.38 L303.24,30.07 L300.16,28.54 L297.86,25.47 L296.32,22.4 L294.01,17.79 L291.71,14.72 L289.4,10.89 L287.1,7.82 L284.02,3.98 L280.95,0.14 L278.64,-3.69 L276.34,-6.77 L273.27,-10.6 L269.42,-14.44 L267.12,-18.28 L265.58,-22.88 L264.81,-27.49 L265.58,-29.79 L268.65,-28.26 L272.5,-27.49 L277.11,-25.18 L279.41,-22.12 L280.95,-18.28 L284.02,-13.67 L287.87,-9.83 L291.71,-5.23 L294.78,-0.62 L297.86,0.91 L301.7,5.52 L305.54,10.12 L307.08,14.72 L310.15,18.56 L314.76,21.63 L318.61,25.47 L322.45,28.54 L326.29,32.38 L329.37,36.22 L333.21,40.05 L335.51,44.66 L337.05,48.49 L338.59,52.33 L338.2,55.4 L336.28,56.94 L335.51,58.47 L337.05,61.54 L340.12,65.38 L343.2,67.3 L346.27,68.83 L350.12,71.52 L353.19,73.82 L357.03,76.12 L361.64,76.89 L366.25,79.19 L370.87,82.27 L375.48,83.8 L379.32,85.33 L383.93,86.87 L389.31,88.41 L393.92,90.32 L399.3,92.24 L404.68,93.78 L409.29,93.78 L413.13,91.86 L416.21,89.94 L419.28,89.94 L423.12,90.32 L426.97,93.01 L430.81,96.08 L434.65,99.15 L438.49,102.22 L443.1,106.06 L447.71,107.59 L452.33,108.36 L456.94,109.9 L461.55,111.43 L466.93,112.97 L472.31,112.97"/><path d="M394.69,30.07 L396.23,41.59 L395.46,45.42 L398.53,50.8 L400.07,55.4 L403.14,59.24 L406.22,63.08 L408.52,66.92 L412.36,69.98 L416.97,71.9 L420.82,74.59 L424.66,74.97 L428.5,73.06 L433.11,72.29 L437.72,71.14 L442.34,71.52 L446.18,70.37 L449.25,66.92 L450.79,63.08 L451.94,57.71 L453.09,53.1 L455.4,51.57 L459.24,50.8"/><path d="M299.39,27.39 L302.08,29.69 L306.16,33.91 L305.54,35.83 L302.08,38.67 L299.39,38.13"/><circle cx="328.6" cy="48.49" r="0.5" fill="#474747" stroke="none"/><path d="M320.14,25.85 l1.2,0.6"/></g>
<g clip-path="url(#clipA)" fill="none" stroke-linecap="round" stroke-linejoin="round"><path d="M37.4,120.7 C38.5,120.62 41.9,120.35 44,120.2 C46.1,120.05 47.33,119.78 50,119.8 C52.67,119.82 56.9,120.08 60,120.3 C63.1,120.52 66.33,120.67 68.6,121.1 C70.87,121.53 71.7,122.48 73.6,122.9 C75.5,123.32 77.73,123.38 80,123.6 C82.27,123.82 85.2,124.33 87.2,124.2 C89.2,124.07 89.87,123.08 92,122.8 C94.13,122.52 96.5,122.63 100,122.5 C103.5,122.37 108,121.25 113,122 C118,122.75 125,125.67 130,127 C135,128.33 138,129.83 143,130 C148,130.17 154.67,128.58 160,128 C165.33,127.42 170,126 175,126.5 C180,127 184.17,128.92 190,131 C195.83,133.08 201.67,136.17 210,139 C218.33,141.83 232.5,145.33 240,148 C247.5,150.67 252.5,153.83 255,155" stroke="#8a8a8a" stroke-width="2" opacity="0.9"/><path d="M118,115.5 C120,116.17 126.17,118.38 130,119.5 C133.83,120.62 137.33,121.37 141,122.2 C144.67,123.03 148,123.82 152,124.5 C156,125.18 160.33,125.22 165,126.3 C169.67,127.38 174.17,129.05 180,131 C185.83,132.95 192.5,135.92 200,138 C207.5,140.08 218.58,141.67 225,143.5 C231.42,145.33 235.43,146.2 238.5,149 C241.57,151.8 242.58,158.42 243.4,160.3" stroke="#000080" stroke-width="1.1" opacity="0.62"/><path d="M148,120.7 C150.83,121.47 158.83,123.42 165,125.3 C171.17,127.18 177.5,129.3 185,132 C192.5,134.7 201.67,139 210,141.5 C218.33,144 229.33,145.25 235,147 C240.67,148.75 241.57,149.57 244,152 C246.43,154.43 248.67,160 249.6,161.6" stroke="#0000b2" stroke-width="1.1" opacity="0.62"/><path d="M89.7,116 C92.18,116.42 100.47,117.93 104.6,118.5 C108.73,119.07 111.1,118.65 114.5,119.4 C117.9,120.15 120.58,121.27 125,123 C129.42,124.73 135.17,127.95 141,129.8 C146.83,131.65 153.33,132.33 160,134.1 C166.67,135.87 172.67,138.93 181,140.4 C189.33,141.87 201.87,142.05 210,142.9 C218.13,143.75 224.8,144.32 229.8,145.5 C234.8,146.68 237.3,148.5 240,150 C242.7,151.5 244.4,152.57 246,154.5 C247.6,156.43 249,160.42 249.6,161.6" stroke="#0000e4" stroke-width="1.1" opacity="0.62"/><path d="M115,121.2 C118.45,121.8 130.18,123.68 135.7,124.8 C141.22,125.92 144.05,126.45 148.1,127.9 C152.15,129.35 153.85,132.32 160,133.5 C166.15,134.68 176.67,133.37 185,135 C193.33,136.63 202.17,141.38 210,143.3 C217.83,145.22 225.7,144.8 232,146.5 C238.3,148.2 244.13,150.98 247.8,153.5 C251.47,156.02 252.97,160.25 254,161.6" stroke="#0006ff" stroke-width="1.1" opacity="0.62"/><path d="M146,133.1 C149.17,133.68 158.5,135.42 165,136.6 C171.5,137.78 177.5,138.83 185,140.2 C192.5,141.57 202.5,143.83 210,144.8 C217.5,145.77 224.5,144.97 230,146 C235.5,147.03 239.33,149.17 243,151 C246.67,152.83 250.5,156 252,157" stroke="#0032ff" stroke-width="1.1" opacity="0.62"/><path d="M150,133 C152.07,133.67 158.23,135.83 162.4,137 C166.57,138.17 169.57,139.08 175,140 C180.43,140.92 189.17,141.7 195,142.5 C200.83,143.3 204.17,144.22 210,144.8 C215.83,145.38 224.17,144.8 230,146 C235.83,147.2 241.17,150.33 245,152 C248.83,153.67 251.67,155.33 253,156" stroke="#005eff" stroke-width="1.1" opacity="0.62"/><path d="M127.9,114.3 C130.92,115.88 140.65,121.1 146,123.8 C151.35,126.5 153.5,128.3 160,130.5 C166.5,132.7 176.67,135.22 185,137 C193.33,138.78 201.67,139.62 210,141.2 C218.33,142.78 227.67,144.2 235,146.5 C242.33,148.8 250.83,153.58 254,155" stroke="#008bff" stroke-width="1.1" opacity="0.62"/><path d="M130.5,109.3 C133.77,111.72 144.35,120.87 150.1,123.8 C155.85,126.73 159.18,125.62 165,126.9 C170.82,128.18 177.5,129.32 185,131.5 C192.5,133.68 200.83,137.17 210,140 C219.17,142.83 232.5,146 240,148.5 C247.5,151 252.5,153.92 255,155" stroke="#00b7ff" stroke-width="1.1" opacity="0.62"/><path d="M127.9,113.9 C130.92,115.55 140.65,121.7 146,123.8 C151.35,125.9 154.33,125.72 160,126.5 C165.67,127.28 171.67,126.42 180,128.5 C188.33,130.58 199.67,135.87 210,139 C220.33,142.13 234.47,144.67 242,147.3 C249.53,149.93 253,153.55 255.2,154.8" stroke="#00e3f9" stroke-width="1.1" opacity="0.62"/><path d="M120,118 C123.47,119.22 134.13,124.1 140.8,125.3 C147.47,126.5 154.22,125.22 160,125.2 C165.78,125.18 170.33,124.17 175.5,125.2 C180.67,126.23 185.25,129.33 191,131.4 C196.75,133.47 203.53,135.88 210,137.6 C216.47,139.32 224.43,140.08 229.8,141.7 C235.17,143.32 237.97,145.12 242.2,147.3 C246.43,149.48 253.03,153.55 255.2,154.8" stroke="#22ffd5" stroke-width="1.1" opacity="0.62"/><path d="M115,119.6 C119.3,120.55 133.3,124.32 140.8,125.3 C148.3,126.28 154.13,125.47 160,125.5 C165.87,125.53 170.67,124.5 176,125.5 C181.33,126.5 186.33,129.42 192,131.5 C197.67,133.58 203.67,136.25 210,138 C216.33,139.75 224.5,140.33 230,142 C235.5,143.67 238.83,145.92 243,148 C247.17,150.08 253,153.42 255,154.5" stroke="#46ffb1" stroke-width="1.1" opacity="0.62"/><path d="M107.4,118.6 C111.17,119.33 121.23,121.65 130,123 C138.77,124.35 152,126.03 160,126.7 C168,127.37 172.17,125.95 178,127 C183.83,128.05 188.83,130.92 195,133 C201.17,135.08 207.5,137.17 215,139.5 C222.5,141.83 233.5,144.58 240,147 C246.5,149.42 251.67,152.83 254,154" stroke="#6aff8d" stroke-width="1.1" opacity="0.62"/><path d="M104.6,120.2 C109.67,121.02 125.77,123.72 135,125.1 C144.23,126.48 151.67,127.43 160,128.5 C168.33,129.57 176.67,129.72 185,131.5 C193.33,133.28 200.83,136.53 210,139.2 C219.17,141.87 232.67,144.95 240,147.5 C247.33,150.05 251.67,153.33 254,154.5" stroke="#8dff6a" stroke-width="1.1" opacity="0.62"/><path d="M69.9,111.9 C74.92,112.92 89.98,115.73 100,118 C110.02,120.27 122.5,123.5 130,125.5 C137.5,127.5 140,129.27 145,130 C150,130.73 153.33,129.57 160,129.9 C166.67,130.23 176.67,130.45 185,132 C193.33,133.55 205.83,138 210,139.2" stroke="#b1ff46" stroke-width="1.1" opacity="0.7"/><path d="M55,113.6 C60.5,114.57 76.98,117.07 88,119.4 C99.02,121.73 113.27,125.53 121.1,127.6 C128.93,129.67 131.02,130.9 135,131.8 C138.98,132.7 140.83,133.13 145,133 C149.17,132.87 155,131.83 160,131 C165,130.17 170,128 175,128 C180,128 184.17,129.17 190,131 C195.83,132.83 206.67,137.67 210,139" stroke="#d5ff22" stroke-width="1.1" opacity="0.7"/><path d="M88,121.8 C92.15,122.9 105.07,126.47 112.9,128.4 C120.73,130.33 129.15,132.47 135,133.4 C140.85,134.33 143.5,134.48 148,134 C152.5,133.52 157.5,131.58 162,130.5 C166.5,129.42 170.33,127.42 175,127.5 C179.67,127.58 184.17,129.17 190,131 C195.83,132.83 206.67,137.25 210,138.5" stroke="#f9f400" stroke-width="1.1" opacity="0.7"/><path d="M68.2,108.6 C74.27,110.4 93.47,116.1 104.6,119.4 C115.73,122.7 127.43,126.63 135,128.4 C142.57,130.17 145,130.15 150,130 C155,129.85 160.83,128.17 165,127.5 C169.17,126.83 171.33,125.62 175,126 C178.67,126.38 182,128.05 187,129.8 C192,131.55 202,135.38 205,136.5" stroke="#ffca00" stroke-width="1.1" opacity="0.7"/><path d="M85.6,111.9 C89.58,113.28 101.27,117.6 109.5,120.2 C117.73,122.8 128.25,125.95 135,127.5 C141.75,129.05 145,129.58 150,129.5 C155,129.42 160.83,127.58 165,127 C169.17,126.42 170.83,125.42 175,126 C179.17,126.58 185.83,129.08 190,130.5 C194.17,131.92 198.33,133.83 200,134.5" stroke="#ffa100" stroke-width="1.1" opacity="0.7"/><path d="M70,111 C75,112.17 90,115.33 100,118 C110,120.67 122,124.92 130,127 C138,129.08 142.17,130.43 148,130.5 C153.83,130.57 160.33,128.13 165,127.4 C169.67,126.67 172.17,125.67 176,126.1 C179.83,126.53 184.67,128.77 188,130 C191.33,131.23 194.67,132.92 196,133.5" stroke="#ff7800" stroke-width="1.1" opacity="0.7"/><path d="M64.9,113.7 C68.75,114.38 80,116.13 88,117.8 C96,119.47 105.07,121.95 112.9,123.7 C120.73,125.45 129.92,127.2 135,128.3 C140.08,129.4 140.57,130.07 143.4,130.3 C146.23,130.53 148.83,130.27 152,129.7 C155.17,129.13 158.6,127.6 162.4,126.9 C166.2,126.2 170.67,125.15 174.8,125.5 C178.93,125.85 184,127.93 187.2,129 C190.4,130.07 192.87,131.42 194,131.9" stroke="#ff4f00" stroke-width="1.15" opacity="0.8"/><path d="M64.9,114.1 C68.75,114.78 80,116.53 88,118.2 C96,119.87 105.07,122.35 112.9,124.1 C120.73,125.85 129.92,127.6 135,128.7 C140.08,129.8 140.57,130.47 143.4,130.7 C146.23,130.93 148.83,130.67 152,130.1 C155.17,129.53 158.6,128 162.4,127.3 C166.2,126.6 170.67,125.55 174.8,125.9 C178.93,126.25 185.13,128.82 187.2,129.4" stroke="#ff2600" stroke-width="1.15" opacity="0.8"/><path d="M64.9,114.4 C68.75,115.08 80,116.83 88,118.5 C96,120.17 105.07,122.65 112.9,124.4 C120.73,126.15 129.92,127.9 135,129 C140.08,130.1 140.57,130.77 143.4,131 C146.23,131.23 148.83,130.97 152,130.4 C155.17,129.83 158.6,128.3 162.4,127.6 C166.2,126.9 170.67,125.85 174.8,126.2 C178.93,126.55 185.13,129.12 187.2,129.7" stroke="#e40000" stroke-width="1.15" opacity="0.8"/><path d="M64.9,114.8 C68.75,115.48 80,117.23 88,118.9 C96,120.57 105.07,123.05 112.9,124.8 C120.73,126.55 129.92,128.3 135,129.4 C140.08,130.5 140.57,131.17 143.4,131.4 C146.23,131.63 148.83,131.37 152,130.8 C155.17,130.23 158.6,128.7 162.4,128 C166.2,127.3 172.73,126.83 174.8,126.6" stroke="#b20000" stroke-width="1.15" opacity="0.8"/><path d="M64.1,118.3 C68.08,118.65 79.87,119.25 88,120.4 C96.13,121.55 105.07,123.65 112.9,125.2 C120.73,126.75 129.92,128.63 135,129.7 C140.08,130.77 140.57,131.38 143.4,131.6 C146.23,131.82 148.83,131.53 152,131 C155.17,130.47 160.67,128.83 162.4,128.4" stroke="#800000" stroke-width="1.15" opacity="0.8"/></g>
<circle cx="89.8" cy="122.6" r="1.9" fill="#24378f" />
<path d="M113.2,119.6 L114.8,124.6 L113.2,129.6 L111.6,124.6 Z" fill="#cc2a2a" />
<circle cx="113.4" cy="121" r="1.3" fill="#3a3ab0" opacity="0.7"/>
<line x1="87.6" y1="130.6" x2="88.9" y2="125" stroke="#555" stroke-width="0.7" />
<text x="86.4" y="137.2" font-family="'DejaVu Sans', 'Liberation Sans', sans-serif" font-size="6.2" fill="#333333" text-anchor="middle" textLength="21.8" lengthAdjust="spacingAndGlyphs" stroke="#333333" stroke-width="0.1">T2F(35)</text>
<line x1="111.5" y1="135.6" x2="112.6" y2="129.5" stroke="#555" stroke-width="0.7" />
<text x="110.7" y="141.7" font-family="'DejaVu Sans', 'Liberation Sans', sans-serif" font-size="6.2" fill="#333333" text-anchor="middle" textLength="11.9" lengthAdjust="spacingAndGlyphs" stroke="#333333" stroke-width="0.1">T2H</text>
<g clip-path="url(#clipB)" fill="none" stroke-linecap="round" stroke-linejoin="round"><path d="M301.7,110.8 C302.97,111.4 307,112.93 309.3,114.4 C311.6,115.87 312.4,117.87 315.5,119.6 C318.6,121.33 323.93,123.32 327.9,124.8 C331.87,126.28 337.4,127.88 339.3,128.5" stroke="#1f77b4" stroke-width="1.1" opacity="0.85"/><path d="M301.7,96.9 C304.42,97.5 313.28,98.98 318,100.5 C322.72,102.02 324.67,103.92 330,106 C335.33,108.08 343.33,110.58 350,113 C356.67,115.42 365,118.42 370,120.5 C375,122.58 376.67,123.75 380,125.5 C383.33,127.25 386.37,128.25 390,131 C393.63,133.75 399.83,140.17 401.8,142" stroke="#aec7e8" stroke-width="1.1" opacity="0.85"/><path d="M301.7,106.7 C306.42,107.65 321.95,110.68 330,112.4 C338.05,114.12 345.87,115.97 350,117 C354.13,118.03 351.98,117.38 354.8,118.6 C357.62,119.82 363.8,122.65 366.9,124.3 C370,125.95 371.28,126.57 373.4,128.5 C375.52,130.43 377.12,133.43 379.6,135.9 C382.08,138.37 386.23,141.45 388.3,143.3 C390.37,145.15 390.47,145.38 392,147 C393.53,148.62 395.05,152 397.5,153 C399.95,154 405.17,153 406.7,153" stroke="#ff7f0e" stroke-width="1.1" opacity="0.85"/><path d="M301.7,104 C306.42,104.98 319.08,107.07 330,109.9 C340.92,112.73 358.87,118.37 367.2,121 C375.53,123.63 376.2,124.45 380,125.7 C383.8,126.95 386.72,127.32 390,128.5 C393.28,129.68 396.08,130.82 399.7,132.8 C403.32,134.78 408.98,138.05 411.7,140.4 C414.42,142.75 415.28,145.82 416,146.9" stroke="#ffbb78" stroke-width="1.1" opacity="0.85"/><path d="M320.7,100 C324.42,100.92 336.28,104.07 343,105.5 C349.72,106.93 353.17,106.02 361,108.6 C368.83,111.18 384.28,118.25 390,121 C395.72,123.75 393.33,122.97 395.3,125.1 C397.27,127.23 399.43,131.43 401.8,133.8 C404.17,136.17 407.85,137.65 409.5,139.3 C411.15,140.95 411.33,141.88 411.7,143.7 C412.07,145.52 411.7,149.12 411.7,150.2" stroke="#2ca02c" stroke-width="1.1" opacity="0.85"/><path d="M318,99 C321.67,99.67 332.67,101.33 340,103 C347.33,104.67 354.5,106.17 362,109 C369.5,111.83 379.27,117.13 385,120 C390.73,122.87 393.78,124.07 396.4,126.2 C399.02,128.33 399.8,130.25 400.7,132.8 C401.6,135.35 401.25,139.5 401.8,141.5 C402.35,143.5 402.53,143.8 404,144.8 C405.47,145.8 409.5,147.05 410.6,147.5" stroke="#98df8a" stroke-width="1.1" opacity="0.85"/><path d="M324.4,97.2 C327.5,97.9 336.9,99.8 343,101.4 C349.1,103 356.33,105.23 361,106.8 C365.67,108.37 367.9,108.83 371,110.8 C374.1,112.77 377.13,116.07 379.6,118.6 C382.07,121.13 383.73,123.28 385.8,126 C387.87,128.72 390.42,131.87 392,134.9 C393.58,137.93 394.75,142.65 395.3,144.2" stroke="#d62728" stroke-width="1.1" opacity="0.85"/><path d="M315,101 C319.17,101.83 331.67,104.17 340,106 C348.33,107.83 357.5,109.5 365,112 C372.5,114.5 379.17,118 385,121 C390.83,124 397.5,128.5 400,130" stroke="#ff9896" stroke-width="1.1" opacity="0.85"/><path d="M317.2,107 C319.78,107.18 326.43,107.42 332.7,108.1 C338.97,108.78 348.02,109.77 354.8,111.1 C361.58,112.43 367.53,114.45 373.4,116.1 C379.27,117.75 385.27,119.13 390,121 C394.73,122.87 398.37,124.98 401.8,127.3 C405.23,129.62 408.23,132.53 410.6,134.9 C412.97,137.27 414.55,139.32 416,141.5 C417.45,143.68 418.75,146.92 419.3,148" stroke="#9467bd" stroke-width="1.1" opacity="0.85"/><path d="M344,99.3 C347.5,99.92 357.33,100.72 365,103 C372.67,105.28 382.5,109.33 390,113 C397.5,116.67 405.33,121.33 410,125 C414.67,128.67 416.67,133.33 418,135" stroke="#c5b0d5" stroke-width="1.1" opacity="0.85"/><path d="M330,104 C335,104.5 350.83,104.83 360,107 C369.17,109.17 377.5,113.67 385,117 C392.5,120.33 401.67,125.33 405,127" stroke="#8c564b" stroke-width="1.1" opacity="0.85"/><path d="M325,104 C330.83,105 349.17,107.17 360,110 C370.83,112.83 381.67,117.67 390,121 C398.33,124.33 406.67,128.5 410,130" stroke="#c49c94" stroke-width="1.1" opacity="0.85"/><path d="M344.1,98.9 C347.72,99.42 359.82,100.37 365.8,102 C371.78,103.63 374.9,105.75 380,108.7 C385.1,111.65 391.48,116.97 396.4,119.7 C401.32,122.43 406.23,123.47 409.5,125.1 C412.77,126.73 414.92,128.77 416,129.5" stroke="#e377c2" stroke-width="1.1" opacity="0.85"/><path d="M330,106 C335,106.83 350,108.33 360,111 C370,113.67 382.5,118.83 390,122 C397.5,125.17 402.5,128.67 405,130" stroke="#f7b6d2" stroke-width="1.1" opacity="0.85"/><path d="M330,103.5 C332.5,103.67 339.67,104 345,104.5 C350.33,105 356.17,104.75 362,106.5 C367.83,108.25 374.5,112.25 380,115 C385.5,117.75 392.5,121.67 395,123" stroke="#7f7f7f" stroke-width="1.1" opacity="0.85"/><path d="M320,104 C325,104.83 340.83,106.83 350,109 C359.17,111.17 368.33,114.5 375,117 C381.67,119.5 387.5,122.83 390,124" stroke="#c7c7c7" stroke-width="1.1" opacity="0.85"/><path d="M322,101 C326.67,101.83 339.5,103.17 350,106 C360.5,108.83 376.67,114.67 385,118 C393.33,121.33 397.5,124.67 400,126" stroke="#bcbd22" stroke-width="1.1" opacity="0.85"/><path d="M322,103 C328.33,104.17 347.83,106.83 360,110 C372.17,113.17 389.17,120 395,122" stroke="#dbdb8d" stroke-width="1.1" opacity="0.85"/><path d="M321.3,103.4 C322.33,103.92 325.22,105.73 327.5,106.5 C329.78,107.27 333.75,107.75 335,108" stroke="#17becf" stroke-width="1.1" opacity="0.85"/><path d="M301.7,91.6 C303.13,92.05 307.92,93.32 310.3,94.3 C312.68,95.28 314.18,96.5 316,97.5 C317.82,98.5 319.53,99.25 321.2,100.3 C322.87,101.35 325.2,103.22 326,103.8" stroke="#7f7f7f" stroke-width="2.4" opacity="0.8"/><path d="M321.2,100.3 C322.05,101.07 324.07,103.7 326.3,104.9 C328.53,106.1 332.35,107.23 334.6,107.5 C336.85,107.77 338.08,107.18 339.8,106.5 C341.52,105.82 343.18,104.18 344.9,103.4 C346.62,102.62 348.25,102 350.1,101.8 C351.95,101.6 355.02,102.13 356,102.2" stroke="#7f7f7f" stroke-width="1.3" opacity="0.8"/><path d="M344,101.6 C345.02,101.6 346.98,101.13 350.1,101.6 C353.22,102.07 357.72,102.43 362.7,104.4 C367.68,106.37 373.83,110.03 380,113.4 C386.17,116.77 392.7,121.47 399.7,124.6 C406.7,127.73 418.28,130.93 422,132.2" stroke="#7f7f7f" stroke-width="2.4" opacity="0.75"/></g>
<path d="M321.5,98.2 L323.1,102.2 L321.5,106.2 L319.9,102.2 Z" fill="#d42a2a" />
<circle cx="361.2" cy="106.3" r="2.1" fill="#2462c0" />
<line x1="327.4" y1="90.4" x2="323" y2="97.8" stroke="#555" stroke-width="0.7" />
<text x="329.25" y="88.8" font-family="'DejaVu Sans', 'Liberation Sans', sans-serif" font-size="5.2" fill="#333333" text-anchor="middle" textLength="9.3" lengthAdjust="spacingAndGlyphs" stroke="#333333" stroke-width="0.1">T2H</text>
<line x1="369.2" y1="95" x2="362" y2="105.2" stroke="#555" stroke-width="0.7" />
<text x="372.3" y="92.7" font-family="'DejaVu Sans', 'Liberation Sans', sans-serif" font-size="5.2" fill="#333333" text-anchor="middle" textLength="18.6" lengthAdjust="spacingAndGlyphs" stroke="#333333" stroke-width="0.1">T2F(35)</text>
<rect x="192.3" y="24.6" width="76.4" height="98.1" fill="rgba(255,255,255,0.82)" stroke="#c4c4c4" stroke-width="0.7" />
<line x1="193.8" y1="28.7" x2="204.1" y2="28.7" stroke="#808080" stroke-width="2.0" opacity="0.85"/>
<text x="207.5" y="30.64" font-family="'DejaVu Sans', 'Liberation Sans', sans-serif" font-size="5.4" fill="#333333" text-anchor="start" textLength="9.30" lengthAdjust="spacingAndGlyphs" stroke="#333333" stroke-width="0.1">WBT</text>
<line x1="193.8" y1="35.58" x2="204.1" y2="35.58" stroke="#3a6fc0" stroke-width="1.0" />
<circle cx="198.95" cy="35.58" r="2.8" fill="#3a6fc0" />
<text x="207.5" y="37.52" font-family="'DejaVu Sans', 'Liberation Sans', sans-serif" font-size="5.4" fill="#333333" text-anchor="start" textLength="18.17" lengthAdjust="spacingAndGlyphs" stroke="#333333" stroke-width="0.1">T2F(35)</text>
<line x1="193.8" y1="42.46" x2="204.1" y2="42.46" stroke="#cc2a2a" stroke-width="1.0" />
<path d="M198.95,39.06 L200.45,42.46 L198.95,45.86 L197.45,42.46 Z" fill="#cc2a2a" />
<text x="207.5" y="44.4" font-family="'DejaVu Sans', 'Liberation Sans', sans-serif" font-size="5.4" fill="#333333" text-anchor="start" textLength="9.38" lengthAdjust="spacingAndGlyphs" stroke="#333333" stroke-width="0.1">T2H</text>
<text x="207.5" y="51.28" font-family="'DejaVu Sans', 'Liberation Sans', sans-serif" font-size="5.4" fill="#333333" text-anchor="start" textLength="15.01" lengthAdjust="spacingAndGlyphs" stroke="#333333" stroke-width="0.1">ECEPS</text>
<line x1="193.8" y1="56.22" x2="204.1" y2="56.22" stroke="#000080" stroke-width="1.5" opacity="0.6"/>
<text x="207.5" y="58.16" font-family="'DejaVu Sans', 'Liberation Sans', sans-serif" font-size="5.4" fill="#333333" text-anchor="start" textLength="17.90" lengthAdjust="spacingAndGlyphs" stroke="#333333" stroke-width="0.1">080512</text>
<line x1="193.8" y1="63.1" x2="204.1" y2="63.1" stroke="#0000b2" stroke-width="1.5" opacity="0.6"/>
<text x="207.5" y="65.04" font-family="'DejaVu Sans', 'Liberation Sans', sans-serif" font-size="5.4" fill="#333333" text-anchor="start" textLength="17.90" lengthAdjust="spacingAndGlyphs" stroke="#333333" stroke-width="0.1">080600</text>
<line x1="193.8" y1="69.98" x2="204.1" y2="69.98" stroke="#0000e4" stroke-width="1.5" opacity="0.6"/>
<text x="207.5" y="71.92" font-family="'DejaVu Sans', 'Liberation Sans', sans-serif" font-size="5.4" fill="#333333" text-anchor="start" textLength="17.90" lengthAdjust="spacingAndGlyphs" stroke="#333333" stroke-width="0.1">080612</text>
<line x1="193.8" y1="76.86" x2="204.1" y2="76.86" stroke="#0006ff" stroke-width="1.5" opacity="0.6"/>
<text x="207.5" y="78.8" font-family="'DejaVu Sans', 'Liberation Sans', sans-serif" font-size="5.4" fill="#333333" text-anchor="start" textLength="17.90" lengthAdjust="spacingAndGlyphs" stroke="#333333" stroke-width="0.1">080700</text>
<line x1="193.8" y1="83.74" x2="204.1" y2="83.74" stroke="#0032ff" stroke-width="1.5" opacity="0.6"/>
<text x="207.5" y="85.68" font-family="'DejaVu Sans', 'Liberation Sans', sans-serif" font-size="5.4" fill="#333333" text-anchor="start" textLength="17.90" lengthAdjust="spacingAndGlyphs" stroke="#333333" stroke-width="0.1">080712</text>
<line x1="193.8" y1="90.62" x2="204.1" y2="90.62" stroke="#005eff" stroke-width="1.5" opacity="0.6"/>
<text x="207.5" y="92.56" font-family="'DejaVu Sans', 'Liberation Sans', sans-serif" font-size="5.4" fill="#333333" text-anchor="start" textLength="17.90" lengthAdjust="spacingAndGlyphs" stroke="#333333" stroke-width="0.1">080800</text>
<line x1="193.8" y1="97.5" x2="204.1" y2="97.5" stroke="#008bff" stroke-width="1.5" opacity="0.6"/>
<text x="207.5" y="99.44" font-family="'DejaVu Sans', 'Liberation Sans', sans-serif" font-size="5.4" fill="#333333" text-anchor="start" textLength="17.90" lengthAdjust="spacingAndGlyphs" stroke="#333333" stroke-width="0.1">080812</text>
<line x1="193.8" y1="104.38" x2="204.1" y2="104.38" stroke="#00b7ff" stroke-width="1.5" opacity="0.6"/>
<text x="207.5" y="106.32" font-family="'DejaVu Sans', 'Liberation Sans', sans-serif" font-size="5.4" fill="#333333" text-anchor="start" textLength="17.90" lengthAdjust="spacingAndGlyphs" stroke="#333333" stroke-width="0.1">080900</text>
<line x1="193.8" y1="111.26" x2="204.1" y2="111.26" stroke="#00e3f9" stroke-width="1.5" opacity="0.6"/>
<text x="207.5" y="113.2" font-family="'DejaVu Sans', 'Liberation Sans', sans-serif" font-size="5.4" fill="#333333" text-anchor="start" textLength="17.90" lengthAdjust="spacingAndGlyphs" stroke="#333333" stroke-width="0.1">080912</text>
<line x1="193.8" y1="118.14" x2="204.1" y2="118.14" stroke="#22ffd5" stroke-width="1.5" opacity="0.6"/>
<text x="207.5" y="120.08" font-family="'DejaVu Sans', 'Liberation Sans', sans-serif" font-size="5.4" fill="#333333" text-anchor="start" textLength="17.90" lengthAdjust="spacingAndGlyphs" stroke="#333333" stroke-width="0.1">081000</text>
<line x1="234.3" y1="28.7" x2="244.6" y2="28.7" stroke="#46ffb1" stroke-width="1.5" opacity="0.6"/>
<text x="247.9" y="30.64" font-family="'DejaVu Sans', 'Liberation Sans', sans-serif" font-size="5.4" fill="#333333" text-anchor="start" textLength="17.90" lengthAdjust="spacingAndGlyphs" stroke="#333333" stroke-width="0.1">081012</text>
<line x1="234.3" y1="35.58" x2="244.6" y2="35.58" stroke="#6aff8d" stroke-width="1.5" opacity="0.6"/>
<text x="247.9" y="37.52" font-family="'DejaVu Sans', 'Liberation Sans', sans-serif" font-size="5.4" fill="#333333" text-anchor="start" textLength="17.90" lengthAdjust="spacingAndGlyphs" stroke="#333333" stroke-width="0.1">081100</text>
<line x1="234.3" y1="42.46" x2="244.6" y2="42.46" stroke="#8dff6a" stroke-width="1.5" opacity="0.6"/>
<text x="247.9" y="44.4" font-family="'DejaVu Sans', 'Liberation Sans', sans-serif" font-size="5.4" fill="#333333" text-anchor="start" textLength="17.90" lengthAdjust="spacingAndGlyphs" stroke="#333333" stroke-width="0.1">081112</text>
<line x1="234.3" y1="49.34" x2="244.6" y2="49.34" stroke="#b1ff46" stroke-width="1.5" opacity="0.6"/>
<text x="247.9" y="51.28" font-family="'DejaVu Sans', 'Liberation Sans', sans-serif" font-size="5.4" fill="#333333" text-anchor="start" textLength="17.90" lengthAdjust="spacingAndGlyphs" stroke="#333333" stroke-width="0.1">081200</text>
<line x1="234.3" y1="56.22" x2="244.6" y2="56.22" stroke="#d5ff22" stroke-width="1.5" opacity="0.6"/>
<text x="247.9" y="58.16" font-family="'DejaVu Sans', 'Liberation Sans', sans-serif" font-size="5.4" fill="#333333" text-anchor="start" textLength="17.90" lengthAdjust="spacingAndGlyphs" stroke="#333333" stroke-width="0.1">081212</text>
<line x1="234.3" y1="63.1" x2="244.6" y2="63.1" stroke="#f9f400" stroke-width="1.5" opacity="0.6"/>
<text x="247.9" y="65.04" font-family="'DejaVu Sans', 'Liberation Sans', sans-serif" font-size="5.4" fill="#333333" text-anchor="start" textLength="17.90" lengthAdjust="spacingAndGlyphs" stroke="#333333" stroke-width="0.1">081300</text>
<line x1="234.3" y1="69.98" x2="244.6" y2="69.98" stroke="#ffca00" stroke-width="1.5" opacity="0.6"/>
<text x="247.9" y="71.92" font-family="'DejaVu Sans', 'Liberation Sans', sans-serif" font-size="5.4" fill="#333333" text-anchor="start" textLength="17.90" lengthAdjust="spacingAndGlyphs" stroke="#333333" stroke-width="0.1">081312</text>
<line x1="234.3" y1="76.86" x2="244.6" y2="76.86" stroke="#ffa100" stroke-width="1.5" opacity="0.6"/>
<text x="247.9" y="78.8" font-family="'DejaVu Sans', 'Liberation Sans', sans-serif" font-size="5.4" fill="#333333" text-anchor="start" textLength="17.90" lengthAdjust="spacingAndGlyphs" stroke="#333333" stroke-width="0.1">081400</text>
<line x1="234.3" y1="83.74" x2="244.6" y2="83.74" stroke="#ff7800" stroke-width="1.5" opacity="0.6"/>
<text x="247.9" y="85.68" font-family="'DejaVu Sans', 'Liberation Sans', sans-serif" font-size="5.4" fill="#333333" text-anchor="start" textLength="17.90" lengthAdjust="spacingAndGlyphs" stroke="#333333" stroke-width="0.1">081412</text>
<line x1="234.3" y1="90.62" x2="244.6" y2="90.62" stroke="#ff4f00" stroke-width="1.5" opacity="0.6"/>
<text x="247.9" y="92.56" font-family="'DejaVu Sans', 'Liberation Sans', sans-serif" font-size="5.4" fill="#333333" text-anchor="start" textLength="17.90" lengthAdjust="spacingAndGlyphs" stroke="#333333" stroke-width="0.1">081500</text>
<line x1="234.3" y1="97.5" x2="244.6" y2="97.5" stroke="#ff2600" stroke-width="1.5" opacity="0.6"/>
<text x="247.9" y="99.44" font-family="'DejaVu Sans', 'Liberation Sans', sans-serif" font-size="5.4" fill="#333333" text-anchor="start" textLength="17.90" lengthAdjust="spacingAndGlyphs" stroke="#333333" stroke-width="0.1">081600</text>
<line x1="234.3" y1="104.38" x2="244.6" y2="104.38" stroke="#e40000" stroke-width="1.5" opacity="0.6"/>
<text x="247.9" y="106.32" font-family="'DejaVu Sans', 'Liberation Sans', sans-serif" font-size="5.4" fill="#333333" text-anchor="start" textLength="17.90" lengthAdjust="spacingAndGlyphs" stroke="#333333" stroke-width="0.1">081612</text>
<line x1="234.3" y1="111.26" x2="244.6" y2="111.26" stroke="#b20000" stroke-width="1.5" opacity="0.6"/>
<text x="247.9" y="113.2" font-family="'DejaVu Sans', 'Liberation Sans', sans-serif" font-size="5.4" fill="#333333" text-anchor="start" textLength="17.90" lengthAdjust="spacingAndGlyphs" stroke="#333333" stroke-width="0.1">081700</text>
<line x1="234.3" y1="118.14" x2="244.6" y2="118.14" stroke="#800000" stroke-width="1.5" opacity="0.6"/>
<text x="247.9" y="120.08" font-family="'DejaVu Sans', 'Liberation Sans', sans-serif" font-size="5.4" fill="#333333" text-anchor="start" textLength="17.90" lengthAdjust="spacingAndGlyphs" stroke="#333333" stroke-width="0.1">081712</text>
<rect x="386.7" y="24.3" width="66.9" height="73.4" fill="rgba(255,255,255,0.82)" stroke="#c4c4c4" stroke-width="0.7" />
<line x1="387.7" y1="27.7" x2="396.5" y2="27.7" stroke="#808080" stroke-width="2.0" opacity="0.85"/>
<text x="399.6" y="29.5" font-family="'DejaVu Sans', 'Liberation Sans', sans-serif" font-size="5.0" fill="#474747" text-anchor="start" textLength="8.31" lengthAdjust="spacingAndGlyphs" stroke="#474747" stroke-width="0">WBT</text>
<circle cx="392.1" cy="33.77" r="2.4" fill="#2462c0" />
<text x="399.6" y="35.57" font-family="'DejaVu Sans', 'Liberation Sans', sans-serif" font-size="5.0" fill="#474747" text-anchor="start" textLength="16.24" lengthAdjust="spacingAndGlyphs" stroke="#474747" stroke-width="0">T2F(35)</text>
<line x1="387.7" y1="39.84" x2="396.5" y2="39.84" stroke="#d42a2a" stroke-width="1.0" />
<path d="M392.1,36.44 L393.6,39.84 L392.1,43.24 L390.6,39.84 Z" fill="#d42a2a" />
<text x="399.6" y="41.64" font-family="'DejaVu Sans', 'Liberation Sans', sans-serif" font-size="5.0" fill="#474747" text-anchor="start" textLength="8.38" lengthAdjust="spacingAndGlyphs" stroke="#474747" stroke-width="0">T2H</text>
<text x="399.6" y="47.71" font-family="'DejaVu Sans', 'Liberation Sans', sans-serif" font-size="5.0" fill="#474747" text-anchor="start" textLength="13.42" lengthAdjust="spacingAndGlyphs" stroke="#474747" stroke-width="0">ECEPS</text>
<line x1="387.7" y1="51.98" x2="396.5" y2="51.98" stroke="#1f77b4" stroke-width="1.5" opacity="0.6"/>
<text x="399.6" y="53.78" font-family="'DejaVu Sans', 'Liberation Sans', sans-serif" font-size="5.0" fill="#474747" text-anchor="start" textLength="16.00" lengthAdjust="spacingAndGlyphs" stroke="#474747" stroke-width="0">080300</text>
<line x1="387.7" y1="58.05" x2="396.5" y2="58.05" stroke="#aec7e8" stroke-width="1.5" opacity="0.6"/>
<text x="399.6" y="59.85" font-family="'DejaVu Sans', 'Liberation Sans', sans-serif" font-size="5.0" fill="#474747" text-anchor="start" textLength="16.00" lengthAdjust="spacingAndGlyphs" stroke="#474747" stroke-width="0">080312</text>
<line x1="387.7" y1="64.12" x2="396.5" y2="64.12" stroke="#ff7f0e" stroke-width="1.5" opacity="0.6"/>
<text x="399.6" y="65.92" font-family="'DejaVu Sans', 'Liberation Sans', sans-serif" font-size="5.0" fill="#474747" text-anchor="start" textLength="16.00" lengthAdjust="spacingAndGlyphs" stroke="#474747" stroke-width="0">080400</text>
<line x1="387.7" y1="70.19" x2="396.5" y2="70.19" stroke="#ffbb78" stroke-width="1.5" opacity="0.6"/>
<text x="399.6" y="71.99" font-family="'DejaVu Sans', 'Liberation Sans', sans-serif" font-size="5.0" fill="#474747" text-anchor="start" textLength="16.00" lengthAdjust="spacingAndGlyphs" stroke="#474747" stroke-width="0">080412</text>
<line x1="387.7" y1="76.26" x2="396.5" y2="76.26" stroke="#2ca02c" stroke-width="1.5" opacity="0.6"/>
<text x="399.6" y="78.06" font-family="'DejaVu Sans', 'Liberation Sans', sans-serif" font-size="5.0" fill="#474747" text-anchor="start" textLength="16.00" lengthAdjust="spacingAndGlyphs" stroke="#474747" stroke-width="0">080500</text>
<line x1="387.7" y1="82.33" x2="396.5" y2="82.33" stroke="#98df8a" stroke-width="1.5" opacity="0.6"/>
<text x="399.6" y="84.13" font-family="'DejaVu Sans', 'Liberation Sans', sans-serif" font-size="5.0" fill="#474747" text-anchor="start" textLength="16.00" lengthAdjust="spacingAndGlyphs" stroke="#474747" stroke-width="0">080512</text>
<line x1="387.7" y1="88.4" x2="396.5" y2="88.4" stroke="#d62728" stroke-width="1.5" opacity="0.6"/>
<text x="399.6" y="90.2" font-family="'DejaVu Sans', 'Liberation Sans', sans-serif" font-size="5.0" fill="#474747" text-anchor="start" textLength="16.00" lengthAdjust="spacingAndGlyphs" stroke="#474747" stroke-width="0">080600</text>
<line x1="387.7" y1="94.47" x2="396.5" y2="94.47" stroke="#ff9896" stroke-width="1.5" opacity="0.6"/>
<text x="399.6" y="96.27" font-family="'DejaVu Sans', 'Liberation Sans', sans-serif" font-size="5.0" fill="#474747" text-anchor="start" textLength="16.00" lengthAdjust="spacingAndGlyphs" stroke="#474747" stroke-width="0">080612</text>
<line x1="424.3" y1="27.7" x2="432.9" y2="27.7" stroke="#9467bd" stroke-width="1.5" opacity="0.6"/>
<text x="435.9" y="29.5" font-family="'DejaVu Sans', 'Liberation Sans', sans-serif" font-size="5.0" fill="#474747" text-anchor="start" textLength="16.00" lengthAdjust="spacingAndGlyphs" stroke="#474747" stroke-width="0">080700</text>
<line x1="424.3" y1="33.77" x2="432.9" y2="33.77" stroke="#c5b0d5" stroke-width="1.5" opacity="0.6"/>
<text x="435.9" y="35.57" font-family="'DejaVu Sans', 'Liberation Sans', sans-serif" font-size="5.0" fill="#474747" text-anchor="start" textLength="16.00" lengthAdjust="spacingAndGlyphs" stroke="#474747" stroke-width="0">080712</text>
<line x1="424.3" y1="39.84" x2="432.9" y2="39.84" stroke="#8c564b" stroke-width="1.5" opacity="0.6"/>
<text x="435.9" y="41.64" font-family="'DejaVu Sans', 'Liberation Sans', sans-serif" font-size="5.0" fill="#474747" text-anchor="start" textLength="16.00" lengthAdjust="spacingAndGlyphs" stroke="#474747" stroke-width="0">080800</text>
<line x1="424.3" y1="45.91" x2="432.9" y2="45.91" stroke="#c49c94" stroke-width="1.5" opacity="0.6"/>
<text x="435.9" y="47.71" font-family="'DejaVu Sans', 'Liberation Sans', sans-serif" font-size="5.0" fill="#474747" text-anchor="start" textLength="16.00" lengthAdjust="spacingAndGlyphs" stroke="#474747" stroke-width="0">080812</text>
<line x1="424.3" y1="51.98" x2="432.9" y2="51.98" stroke="#e377c2" stroke-width="1.5" opacity="0.6"/>
<text x="435.9" y="53.78" font-family="'DejaVu Sans', 'Liberation Sans', sans-serif" font-size="5.0" fill="#474747" text-anchor="start" textLength="16.00" lengthAdjust="spacingAndGlyphs" stroke="#474747" stroke-width="0">080900</text>
<line x1="424.3" y1="58.05" x2="432.9" y2="58.05" stroke="#f7b6d2" stroke-width="1.5" opacity="0.6"/>
<text x="435.9" y="59.85" font-family="'DejaVu Sans', 'Liberation Sans', sans-serif" font-size="5.0" fill="#474747" text-anchor="start" textLength="16.00" lengthAdjust="spacingAndGlyphs" stroke="#474747" stroke-width="0">080912</text>
<line x1="424.3" y1="64.12" x2="432.9" y2="64.12" stroke="#7f7f7f" stroke-width="1.5" opacity="0.6"/>
<text x="435.9" y="65.92" font-family="'DejaVu Sans', 'Liberation Sans', sans-serif" font-size="5.0" fill="#474747" text-anchor="start" textLength="16.00" lengthAdjust="spacingAndGlyphs" stroke="#474747" stroke-width="0">081000</text>
<line x1="424.3" y1="70.19" x2="432.9" y2="70.19" stroke="#c7c7c7" stroke-width="1.5" opacity="0.6"/>
<text x="435.9" y="71.99" font-family="'DejaVu Sans', 'Liberation Sans', sans-serif" font-size="5.0" fill="#474747" text-anchor="start" textLength="16.00" lengthAdjust="spacingAndGlyphs" stroke="#474747" stroke-width="0">081012</text>
<line x1="424.3" y1="76.26" x2="432.9" y2="76.26" stroke="#bcbd22" stroke-width="1.5" opacity="0.6"/>
<text x="435.9" y="78.06" font-family="'DejaVu Sans', 'Liberation Sans', sans-serif" font-size="5.0" fill="#474747" text-anchor="start" textLength="16.00" lengthAdjust="spacingAndGlyphs" stroke="#474747" stroke-width="0">081100</text>
<line x1="424.3" y1="82.33" x2="432.9" y2="82.33" stroke="#dbdb8d" stroke-width="1.5" opacity="0.6"/>
<text x="435.9" y="84.13" font-family="'DejaVu Sans', 'Liberation Sans', sans-serif" font-size="5.0" fill="#474747" text-anchor="start" textLength="16.00" lengthAdjust="spacingAndGlyphs" stroke="#474747" stroke-width="0">081112</text>
<line x1="424.3" y1="88.4" x2="432.9" y2="88.4" stroke="#17becf" stroke-width="1.5" opacity="0.6"/>
<text x="435.9" y="90.2" font-family="'DejaVu Sans', 'Liberation Sans', sans-serif" font-size="5.0" fill="#474747" text-anchor="start" textLength="16.00" lengthAdjust="spacingAndGlyphs" stroke="#474747" stroke-width="0">081200</text>
<rect x="33.2" y="22.4" width="236.7" height="152.1" fill="none" stroke="#808080" stroke-width="1.0" />
<rect x="301.7" y="22.4" width="153.7" height="153.5" fill="none" stroke="#808080" stroke-width="1.0" />
<line x1="33.2" y1="174.5" x2="33.2" y2="176.1" stroke="#666" stroke-width="0.8" />
<line x1="67.01" y1="174.5" x2="67.01" y2="176.1" stroke="#666" stroke-width="0.8" />
<line x1="100.83" y1="174.5" x2="100.83" y2="176.1" stroke="#666" stroke-width="0.8" />
<line x1="134.64" y1="174.5" x2="134.64" y2="176.1" stroke="#666" stroke-width="0.8" />
<line x1="168.46" y1="174.5" x2="168.46" y2="176.1" stroke="#666" stroke-width="0.8" />
<line x1="202.27" y1="174.5" x2="202.27" y2="176.1" stroke="#666" stroke-width="0.8" />
<line x1="236.08" y1="174.5" x2="236.08" y2="176.1" stroke="#666" stroke-width="0.8" />
<line x1="269.9" y1="174.5" x2="269.9" y2="176.1" stroke="#666" stroke-width="0.8" />
<line x1="31.6" y1="22.4" x2="33.2" y2="22.4" stroke="#666" stroke-width="0.8" />
<line x1="31.6" y1="56.2" x2="33.2" y2="56.2" stroke="#666" stroke-width="0.8" />
<line x1="31.6" y1="90" x2="33.2" y2="90" stroke="#666" stroke-width="0.8" />
<line x1="31.6" y1="123.8" x2="33.2" y2="123.8" stroke="#666" stroke-width="0.8" />
<line x1="31.6" y1="157.6" x2="33.2" y2="157.6" stroke="#666" stroke-width="0.8" />
<text x="33.2" y="181.6" font-family="'DejaVu Sans', 'Liberation Sans', sans-serif" font-size="5.4" fill="#333333" text-anchor="middle" stroke="#333333" stroke-width="0.12">160°W</text>
<text x="67.01" y="181.6" font-family="'DejaVu Sans', 'Liberation Sans', sans-serif" font-size="5.4" fill="#333333" text-anchor="middle" stroke="#333333" stroke-width="0.12">150°W</text>
<text x="100.83" y="181.6" font-family="'DejaVu Sans', 'Liberation Sans', sans-serif" font-size="5.4" fill="#333333" text-anchor="middle" stroke="#333333" stroke-width="0.12">140°W</text>
<text x="134.64" y="181.6" font-family="'DejaVu Sans', 'Liberation Sans', sans-serif" font-size="5.4" fill="#333333" text-anchor="middle" stroke="#333333" stroke-width="0.12">130°W</text>
<text x="168.46" y="181.6" font-family="'DejaVu Sans', 'Liberation Sans', sans-serif" font-size="5.4" fill="#333333" text-anchor="middle" stroke="#333333" stroke-width="0.12">120°W</text>
<text x="202.27" y="181.6" font-family="'DejaVu Sans', 'Liberation Sans', sans-serif" font-size="5.4" fill="#333333" text-anchor="middle" stroke="#333333" stroke-width="0.12">110°W</text>
<text x="236.08" y="181.6" font-family="'DejaVu Sans', 'Liberation Sans', sans-serif" font-size="5.4" fill="#333333" text-anchor="middle" stroke="#333333" stroke-width="0.12">100°W</text>
<text x="269.9" y="181.6" font-family="'DejaVu Sans', 'Liberation Sans', sans-serif" font-size="5.4" fill="#333333" text-anchor="middle" stroke="#333333" stroke-width="0.12">90°W</text>
<text x="30.2" y="24.34" font-family="'DejaVu Sans', 'Liberation Sans', sans-serif" font-size="5.4" fill="#333333" text-anchor="end" stroke="#333333" stroke-width="0.12">50°N</text>
<text x="30.2" y="58.14" font-family="'DejaVu Sans', 'Liberation Sans', sans-serif" font-size="5.4" fill="#333333" text-anchor="end" stroke="#333333" stroke-width="0.12">40°N</text>
<text x="30.2" y="91.94" font-family="'DejaVu Sans', 'Liberation Sans', sans-serif" font-size="5.4" fill="#333333" text-anchor="end" stroke="#333333" stroke-width="0.12">30°N</text>
<text x="30.2" y="125.74" font-family="'DejaVu Sans', 'Liberation Sans', sans-serif" font-size="5.4" fill="#333333" text-anchor="end" stroke="#333333" stroke-width="0.12">20°N</text>
<text x="30.2" y="159.54" font-family="'DejaVu Sans', 'Liberation Sans', sans-serif" font-size="5.4" fill="#333333" text-anchor="end" stroke="#333333" stroke-width="0.12">10°N</text>
<line x1="301.7" y1="175.9" x2="301.7" y2="177.5" stroke="#666" stroke-width="0.8" />
<line x1="340.12" y1="175.9" x2="340.12" y2="177.5" stroke="#666" stroke-width="0.8" />
<line x1="378.55" y1="175.9" x2="378.55" y2="177.5" stroke="#666" stroke-width="0.8" />
<line x1="416.97" y1="175.9" x2="416.97" y2="177.5" stroke="#666" stroke-width="0.8" />
<line x1="455.4" y1="175.9" x2="455.4" y2="177.5" stroke="#666" stroke-width="0.8" />
<line x1="300.1" y1="22.4" x2="301.7" y2="22.4" stroke="#666" stroke-width="0.8" />
<line x1="300.1" y1="60.77" x2="301.7" y2="60.77" stroke="#666" stroke-width="0.8" />
<line x1="300.1" y1="99.15" x2="301.7" y2="99.15" stroke="#666" stroke-width="0.8" />
<line x1="300.1" y1="137.53" x2="301.7" y2="137.53" stroke="#666" stroke-width="0.8" />
<line x1="300.1" y1="175.9" x2="301.7" y2="175.9" stroke="#666" stroke-width="0.8" />
<text x="301.7" y="182.9" font-family="'DejaVu Sans', 'Liberation Sans', sans-serif" font-size="5.4" fill="#333333" text-anchor="middle" stroke="#333333" stroke-width="0.12">110°W</text>
<text x="340.12" y="182.9" font-family="'DejaVu Sans', 'Liberation Sans', sans-serif" font-size="5.4" fill="#333333" text-anchor="middle" stroke="#333333" stroke-width="0.12">105°W</text>
<text x="378.55" y="182.9" font-family="'DejaVu Sans', 'Liberation Sans', sans-serif" font-size="5.4" fill="#333333" text-anchor="middle" stroke="#333333" stroke-width="0.12">100°W</text>
<text x="416.97" y="182.9" font-family="'DejaVu Sans', 'Liberation Sans', sans-serif" font-size="5.4" fill="#333333" text-anchor="middle" stroke="#333333" stroke-width="0.12">95°W</text>
<text x="455.4" y="182.9" font-family="'DejaVu Sans', 'Liberation Sans', sans-serif" font-size="5.4" fill="#333333" text-anchor="middle" stroke="#333333" stroke-width="0.12">90°W</text>
<text x="298.7" y="24.34" font-family="'DejaVu Sans', 'Liberation Sans', sans-serif" font-size="5.4" fill="#333333" text-anchor="end" stroke="#333333" stroke-width="0.12">25°N</text>
<text x="298.7" y="62.72" font-family="'DejaVu Sans', 'Liberation Sans', sans-serif" font-size="5.4" fill="#333333" text-anchor="end" stroke="#333333" stroke-width="0.12">20°N</text>
<text x="298.7" y="101.09" font-family="'DejaVu Sans', 'Liberation Sans', sans-serif" font-size="5.4" fill="#333333" text-anchor="end" stroke="#333333" stroke-width="0.12">15°N</text>
<text x="298.7" y="139.47" font-family="'DejaVu Sans', 'Liberation Sans', sans-serif" font-size="5.4" fill="#333333" text-anchor="end" stroke="#333333" stroke-width="0.12">10°N</text>
<text x="298.7" y="177.84" font-family="'DejaVu Sans', 'Liberation Sans', sans-serif" font-size="5.4" fill="#333333" text-anchor="end" stroke="#333333" stroke-width="0.12">5°N</text>
<text x="40.3" y="17.5" font-family="'Liberation Sans', 'DejaVu Sans', sans-serif" font-size="11.6" fill="#111" text-anchor="start" textLength="201.7" lengthAdjust="spacingAndGlyphs" stroke="#111" stroke-width="0.3">(a) ENDING-HURRICANE LINDA TRACK</text>
<text x="282.8" y="15.7" font-family="'Liberation Sans', 'DejaVu Sans', sans-serif" font-size="12.2" fill="#111" text-anchor="start" textLength="179.3" lengthAdjust="spacingAndGlyphs" stroke="#111" stroke-width="0.3">(b) PRE-HURRICANE LINDA TRACK</text></svg>
</body></html>
